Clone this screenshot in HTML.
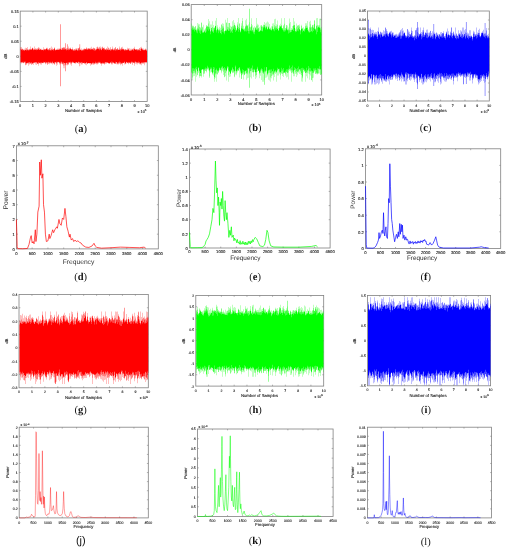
<!DOCTYPE html>
<html lang="en"><head><meta charset="utf-8"><title>Signals and power spectra</title>
<style>
html,body{margin:0;padding:0;background:#fff}
body{width:508px;height:550px;overflow:hidden}
svg{display:block;font-family:"Liberation Sans",sans-serif;text-rendering:geometricPrecision}
.t text{stroke:#222;stroke-width:0.12px}
</style></head><body>
<svg width="508" height="550" viewBox="0 0 508 550">
<defs><filter id="soft" x="0" y="0" width="100%" height="100%" filterUnits="userSpaceOnUse"><feGaussianBlur stdDeviation="0.3"/></filter></defs>
<rect width="508" height="550" fill="#fff"/>
<g filter="url(#soft)">
<g id="plot-a"><rect x="20.2" y="11.1" width="127" height="90.4" fill="none" stroke="#808080" stroke-width="0.8"/>
<path d="M32.9 101.5v-1.4M32.9 11.1v1.4M45.6 101.5v-1.4M45.6 11.1v1.4M58.3 101.5v-1.4M58.3 11.1v1.4M71 101.5v-1.4M71 11.1v1.4M83.7 101.5v-1.4M83.7 11.1v1.4M96.4 101.5v-1.4M96.4 11.1v1.4M109.1 101.5v-1.4M109.1 11.1v1.4M121.8 101.5v-1.4M121.8 11.1v1.4M134.5 101.5v-1.4M134.5 11.1v1.4M20.2 26.17h1.4M147.2 26.17h-1.4M20.2 41.23h1.4M147.2 41.23h-1.4M20.2 56.3h1.4M147.2 56.3h-1.4M20.2 71.37h1.4M147.2 71.37h-1.4M20.2 86.43h1.4M147.2 86.43h-1.4" stroke="#808080" stroke-width="0.6" fill="none"/>
<g class="t"><text x="20.2" y="107.1" font-size="3.9" text-anchor="middle" fill="#222">0</text><text x="32.9" y="107.1" font-size="3.9" text-anchor="middle" fill="#222">1</text><text x="45.6" y="107.1" font-size="3.9" text-anchor="middle" fill="#222">2</text><text x="58.3" y="107.1" font-size="3.9" text-anchor="middle" fill="#222">3</text><text x="71" y="107.1" font-size="3.9" text-anchor="middle" fill="#222">4</text><text x="83.7" y="107.1" font-size="3.9" text-anchor="middle" fill="#222">5</text><text x="96.4" y="107.1" font-size="3.9" text-anchor="middle" fill="#222">6</text><text x="109.1" y="107.1" font-size="3.9" text-anchor="middle" fill="#222">7</text><text x="121.8" y="107.1" font-size="3.9" text-anchor="middle" fill="#222">8</text><text x="134.5" y="107.1" font-size="3.9" text-anchor="middle" fill="#222">9</text><text x="147.2" y="107.1" font-size="3.9" text-anchor="middle" fill="#222">10</text><text x="18.6" y="12.7" font-size="3.9" text-anchor="end" fill="#222">0.15</text><text x="18.6" y="27.77" font-size="3.9" text-anchor="end" fill="#222">0.1</text><text x="18.6" y="42.84" font-size="3.9" text-anchor="end" fill="#222">0.05</text><text x="18.6" y="57.9" font-size="3.9" text-anchor="end" fill="#222">0</text><text x="18.6" y="72.97" font-size="3.9" text-anchor="end" fill="#222">-0.05</text><text x="18.6" y="88.04" font-size="3.9" text-anchor="end" fill="#222">-0.1</text><text x="18.6" y="103.1" font-size="3.9" text-anchor="end" fill="#222">-0.15</text></g>
<path d="M20.5 56.2V47.35H20.75V48.88H21V48.8H21.25V49.79H21.5V46.94H21.75V49.65H22V48.74H22.25V49.14H22.5V50.39H22.75V48.86H23V49.93H23.25V49.46H23.5V49.55H23.75V50.41H24V48.65H24.25V50.67H24.5V50.57H24.75V49.99H25V47.64H25.25V49.81H25.5V49.66H25.75V49.95H26V48.59H26.25V50.45H26.5V50.25H26.75V48.11H27V48.96H27.25V47.01H27.5V49.94H27.75V50.23H28V50.73H28.25V49.46H28.5V49.63H28.75V49.64H29V49.39H29.25V50.34H29.5V49.4H29.75V48.79H30V49.26H30.25V46.6H30.5V49.63H30.75V49.58H31V49.02H31.25V49.9H31.5V49.68H31.75V48.81H32V47.57H32.25V48.03H32.5V48.32H32.75V48.69H33V49.11H33.25V50.25H33.5V48.62H33.75V50.09H34V49.55H34.25V49.94H34.5V48.96H34.75V46.6H35V49.84H35.25V48.67H35.5V48.27H35.75V50.05H36V49.82H36.25V48.63H36.5V48.71H36.75V50.36H37V48.73H37.25V49.78H37.5V48.17H37.75V50.01H38V48.03H38.25V49.35H38.5V47H38.75V49.35H39V49.99H39.25V47.74H39.5V48.77H39.75V49.88H40V49.57H40.25V48.84H40.5V49.62H40.75V49.23H41V50.13H41.25V48.84H41.5V49.97H41.75V49.75H42V49.91H42.25V49.2H42.5V49.91H42.75V49.96H43V49.28H43.25V47.13H43.5V50.74H43.75V49.99H44V48.82H44.25V50.08H44.5V49.01H44.75V49.46H45V50.33H45.25V49.38H45.5V48.92H45.75V48.92H46V47.77H46.25V48.62H46.5V48.92H46.75V48.53H47V47.75H47.25V49.41H47.5V48.72H47.75V49.96H48V50.44H48.25V48.93H48.5V49.69H48.75V49.54H49V47.88H49.25V48.3H49.5V50.36H49.75V49.51H50V50.21H50.25V47.81H50.5V49.77H50.75V50.41H51V50.38H51.25V46.6H51.5V49.55H51.75V49.16H52V50.05H52.25V47.84H52.5V48.89H52.75V50.1H53V49.39H53.25V49.35H53.5V50.67H53.75V49.05H54V47.35H54.25V49.28H54.5V48.56H54.75V48H55V49.73H55.25V50.68H55.5V49.7H55.75V49.89H56V49.16H56.25V49.71H56.5V50.07H56.75V49.71H57V50.12H57.25V49.59H57.5V48.59H57.75V49.65H58V49.47H58.25V48.51H58.5V49.72H58.75V50.09H59V48.25H59.25V49.48H59.5V49.83H59.75V49.05H60V48.61H60.25V48.98H60.5V49.29H60.75V49.59H61V49.31H61.25V47.86H61.5V49.81H61.75V50.04H62V47.58H62.25V48.3H62.5V48.08H62.75V49.77H63V49.99H63.25V46.98H63.5V48.61H63.75V48.18H64V49.06H64.25V50.06H64.5V47.34H64.75V48.11H65V49.04H65.25V49.16H65.5V49.68H65.75V49.02H66V48.04H66.25V48.91H66.5V50.55H66.75V49.75H67V47.92H67.25V49.94H67.5V48.87H67.75V49.98H68V46.6H68.25V50.16H68.5V48.38H68.75V49.33H69V49.75H69.25V49.38H69.5V48.43H69.75V48.29H70V48.93H70.25V47.54H70.5V48.78H70.75V48.33H71V49.46H71.25V49.22H71.5V49.77H71.75V49.11H72V47.43H72.25V49.23H72.5V50.19H72.75V49.08H73V49.53H73.25V50.4H73.5V49.71H73.75V50.67H74V50.69H74.25V49.32H74.5V50.31H74.75V49.12H75V48.62H75.25V49.59H75.5V49.89H75.75V50.7H76V48.5H76.25V49.97H76.5V49.48H76.75V48.38H77V50.8H77.25V49.96H77.5V48.28H77.75V50.42H78V48.09H78.25V48.01H78.5V49.1H78.75V50.49H79V47.14H79.25V50.47H79.5V49.66H79.75V47.72H80V49.68H80.25V49.43H80.5V49.61H80.75V49.95H81V49.89H81.25V50.98H81.5V48.48H81.75V50.14H82V49.31H82.25V50.11H82.5V50.25H82.75V50.83H83V48.71H83.25V49.16H83.5V50.25H83.75V50.27H84V48.87H84.25V50.15H84.5V48.84H84.75V48.8H85V49.64H85.25V49.05H85.5V49H85.75V48.79H86V48.92H86.25V47.94H86.5V47.32H86.75V49.63H87V49.2H87.25V49.38H87.5V49.7H87.75V48.29H88V48.34H88.25V48.49H88.5V48.49H88.75V49.6H89V48.83H89.25V48.68H89.5V49.42H89.75V48.3H90V47.76H90.25V49.57H90.5V49.66H90.75V48.65H91V49.38H91.25V46.79H91.5V48.82H91.75V49.27H92V48.46H92.25V48.75H92.5V49.43H92.75V49.35H93V48.01H93.25V49.45H93.5V47.49H93.75V50.37H94V48.34H94.25V48.6H94.5V48.44H94.75V50.7H95V48.74H95.25V49.45H95.5V50.61H95.75V50.32H96V47.14H96.25V49.19H96.5V49.35H96.75V49.55H97V48.85H97.25V48.84H97.5V46.6H97.75V46.94H98V49.26H98.25V47.55H98.5V48.39H98.75V48.81H99V47.52H99.25V46.87H99.5V50.18H99.75V48.99H100V48.3H100.25V49.52H100.5V46.6H100.75V48.4H101V50.19H101.25V49.96H101.5V49.33H101.75V47.62H102V48.64H102.25V46.76H102.5V48.4H102.75V46.69H103V47.98H103.25V49.48H103.5V47.85H103.75V48.17H104V50.18H104.25V48.8H104.5V48.67H104.75V47.59H105V49.73H105.25V49.56H105.5V49.35H105.75V49.51H106V47.92H106.25V48.77H106.5V49.61H106.75V50.48H107V49.95H107.25V49.53H107.5V49.35H107.75V46.6H108V50.17H108.25V47.55H108.5V48.07H108.75V49.74H109V50.04H109.25V49.96H109.5V49.27H109.75V48.41H110V47.1H110.25V50.15H110.5V50.69H110.75V48.75H111V50.28H111.25V49.3H111.5V49.02H111.75V49.42H112V46.6H112.25V49.31H112.5V48.5H112.75V49.81H113V49.47H113.25V50.22H113.5V50.21H113.75V48.81H114V48.69H114.25V50.33H114.5V49.42H114.75V47.88H115V47.28H115.25V50.63H115.5V49.39H115.75V47.32H116V49.25H116.25V49.26H116.5V49.02H116.75V50.36H117V50.35H117.25V48.05H117.5V48.22H117.75V49.13H118V50.07H118.25V49.6H118.5V49.82H118.75V49.49H119V48.48H119.25V50.03H119.5V46.6H119.75V49.82H120V48.54H120.25V49.34H120.5V50.63H120.75V49.49H121V47.6H121.25V49.25H121.5V49.8H121.75V47.56H122V48.75H122.25V46.64H122.5V49.48H122.75V49.16H123V49.35H123.25V48.89H123.5V49.73H123.75V48.48H124V50.4H124.25V50.62H124.5V49.41H124.75V49.41H125V50.29H125.25V49.04H125.5V50.25H125.75V49.06H126V50.03H126.25V49.22H126.5V49.88H126.75V50.57H127V47.78H127.25V50.37H127.5V49.8H127.75V49.45H128V49.35H128.25V48.03H128.5V49.11H128.75V49.94H129V48.27H129.25V50H129.5V50.8H129.75V50.98H130V50.65H130.25V50.3H130.5V48.72H130.75V50.85H131V48.76H131.25V50.43H131.5V50.44H131.75V49.84H132V49.65H132.25V48.82H132.5V49.74H132.75V49.19H133V48.49H133.25V48.46H133.5V50.37H133.75V50.76H134V48.63H134.25V46.74H134.5V49.2H134.75V48.65H135V48.93H135.25V49.97H135.5V49.59H135.75V49.64H136V48.99H136.25V50.13H136.5V49.2H136.75V49.51H137V49.62H137.25V50.61H137.5V49.07H137.75V50.16H138V49.26H138.25V50.58H138.5V49.43H138.75V49.75H139V50.54H139.25V50.09H139.5V48.19H139.75V48.37H140V50.91H140.25V47.2H140.5V49.06H140.75V50.74H141V46.75H141.25V48.6H141.5V48.87H141.75V48.19H142V49.62H142.25V49.81H142.5V49.14H142.75V48.21H143V50.28H143.25V50.3H143.5V49.78H143.75V48.43H144V49.66H144.25V49.94H144.5V49.41H144.75V50.43H145V49.37H145.25V49.69H145.5V48.4H145.75V49.83H146V50.19H146.25V50.08H146.5V49.03H146.75V50.98H147V56.2V62.77H146.75V62H146.5V62.82H146.25V61.98H146V62.08H145.75V61.92H145.5V62.41H145.25V63.28H145V61.9H144.75V65.33H144.5V63.16H144.25V62.14H144V62.04H143.75V63.52H143.5V62.65H143.25V63.38H143V62.98H142.75V62.75H142.5V62.14H142.25V64.11H142V65.29H141.75V62.06H141.5V63.1H141.25V63.22H141V63H140.75V63.69H140.5V63.72H140.25V64.7H140V63.57H139.75V64.33H139.5V62.59H139.25V62.24H139V62.73H138.75V61.54H138.5V63.6H138.25V62.78H138V62.3H137.75V62.38H137.5V62.93H137.25V64.43H137V62.32H136.75V62.04H136.5V62.93H136.25V64.28H136V61.42H135.75V62.37H135.5V61.85H135.25V63.73H135V65.8H134.75V63.48H134.5V63.08H134.25V61.85H134V62.34H133.75V63.01H133.5V63.08H133.25V62.49H133V61.69H132.75V62.06H132.5V63.23H132.25V65.07H132V62.43H131.75V61.42H131.5V62.24H131.25V63.35H131V63.24H130.75V63.67H130.5V64.12H130.25V62.15H130V62.42H129.75V62.4H129.5V62.8H129.25V63.27H129V64.34H128.75V62.1H128.5V62.85H128.25V63.21H128V62.8H127.75V62.94H127.5V63.13H127.25V62.32H127V62.06H126.75V62.23H126.5V61.63H126.25V63.5H126V63.68H125.75V64.18H125.5V63.54H125.25V62.9H125V64.62H124.75V62.35H124.5V61.51H124.25V62.56H124V63.04H123.75V62.92H123.5V63.02H123.25V62.47H123V63.6H122.75V62.56H122.5V65.8H122.25V63.08H122V62.67H121.75V64.33H121.5V63.89H121.25V63.34H121V61.93H120.75V65.17H120.5V64.04H120.25V62.88H120V64.1H119.75V62.55H119.5V61.61H119.25V63.03H119V62.09H118.75V63.26H118.5V63.42H118.25V64.43H118V64.42H117.75V63.96H117.5V63.28H117.25V62.84H117V62.38H116.75V62.04H116.5V64.3H116.25V62.12H116V63.93H115.75V63.57H115.5V61.8H115.25V63.58H115V63.55H114.75V63.86H114.5V63.1H114.25V63.5H114V63.27H113.75V62.45H113.5V62.97H113.25V62.14H113V62.49H112.75V64.58H112.5V61.87H112.25V63.17H112V64.46H111.75V62.9H111.5V63.66H111.25V61.58H111V62.6H110.75V62.61H110.5V62.25H110.25V63.26H110V63.35H109.75V63.04H109.5V64.1H109.25V63.44H109V63.45H108.75V63.09H108.5V62.76H108.25V63.6H108V62.37H107.75V62.68H107.5V62.64H107.25V62.65H107V62.34H106.75V63.87H106.5V62.7H106.25V62.34H106V62.06H105.75V62.48H105.5V62.57H105.25V64H105V63.37H104.75V64.82H104.5V64.1H104.25V62.62H104V63.39H103.75V64.04H103.5V63.28H103.25V62.84H103V62.91H102.75V63.95H102.5V62.62H102.25V63.44H102V62.9H101.75V65.8H101.5V63.57H101.25V63.86H101V62.33H100.75V63.02H100.5V63.61H100.25V64.04H100V62.96H99.75V62.72H99.5V61.87H99.25V62.38H99V62.96H98.75V61.7H98.5V62.54H98.25V63.77H98V64.42H97.75V62.68H97.5V62.46H97.25V63.69H97V63.42H96.75V63.1H96.5V64.39H96.25V62.57H96V63.5H95.75V61.86H95.5V62.73H95.25V63.7H95V63.59H94.75V64.39H94.5V63.16H94.25V63.55H94V64.5H93.75V62.44H93.5V64.6H93.25V63.07H93V64.61H92.75V63.54H92.5V62.41H92.25V62.97H92V64.95H91.75V63.63H91.5V64.14H91.25V63.31H91V65.8H90.75V63.14H90.5V63.33H90.25V63.05H90V63.56H89.75V62.9H89.5V63.56H89.25V62.91H89V63.05H88.75V63.02H88.5V63.27H88.25V63.37H88V63.81H87.75V63.62H87.5V62.97H87.25V63.96H87V62.73H86.75V65.13H86.5V62.45H86.25V62.36H86V63.09H85.75V63.2H85.5V64.8H85.25V63.61H85V62.8H84.75V63.42H84.5V62.83H84.25V63.99H84V63.32H83.75V62.97H83.5V62.98H83.25V62.75H83V64.58H82.75V62.7H82.5V63.32H82.25V62.54H82V62.26H81.75V62.25H81.5V64.67H81.25V63.72H81V62.57H80.75V62.91H80.5V63.49H80.25V62.43H80V63.38H79.75V62.17H79.5V62.62H79.25V62.37H79V62.6H78.75V61.71H78.5V64.07H78.25V61.77H78V62.59H77.75V63.03H77.5V62.73H77.25V63.16H77V61.92H76.75V62.62H76.5V63.25H76.25V62.04H76V62.01H75.75V63.24H75.5V62.8H75.25V63.73H75V63.32H74.75V63.14H74.5V62.63H74.25V62.98H74V62.79H73.75V62.55H73.5V62.08H73.25V62.9H73V62.3H72.75V61.42H72.5V62.52H72.25V62.67H72V62.82H71.75V63.76H71.5V62.26H71.25V65.63H71V61.63H70.75V62.41H70.5V64.58H70.25V63.29H70V62.47H69.75V61.92H69.5V62.59H69.25V62.89H69V63.17H68.75V63.97H68.5V62.01H68.25V64.95H68V62.94H67.75V64.31H67.5V62.22H67.25V63.9H67V65.18H66.75V62.93H66.5V62.82H66.25V62.73H66V63.23H65.75V65.18H65.5V63.29H65.25V64.81H65V65.38H64.75V62.88H64.5V62.96H64.25V63.06H64V62.47H63.75V65.8H63.5V64.28H63.25V62.39H63V64.61H62.75V63.77H62.5V63.76H62.25V62.48H62V61.56H61.75V63.81H61.5V62.09H61.25V63.16H61V63.07H60.75V61.65H60.5V63.39H60.25V64.36H60V62.66H59.75V64.47H59.5V63.35H59.25V62.24H59V62.19H58.75V62.48H58.5V61.68H58.25V61.95H58V62.51H57.75V64.77H57.5V62.37H57.25V61.75H57V63.13H56.75V65.8H56.5V63.48H56.25V61.78H56V61.93H55.75V61.97H55.5V63.35H55.25V62.38H55V64.38H54.75V63.6H54.5V64.41H54.25V61.96H54V63.35H53.75V62.81H53.5V63.56H53.25V63.17H53V62.02H52.75V62.88H52.5V64.43H52.25V61.48H52V62.95H51.75V62.94H51.5V63.91H51.25V62.19H51V61.83H50.75V62.54H50.5V63.07H50.25V63.5H50V62.84H49.75V64.13H49.5V62.91H49.25V62.02H49V64.09H48.75V63.35H48.5V62.06H48.25V61.76H48V64.67H47.75V62.29H47.5V64.44H47.25V62.86H47V62.67H46.75V62.14H46.5V63.51H46.25V62.31H46V64.22H45.75V63.5H45.5V61.74H45.25V62.88H45V62.21H44.75V62.89H44.5V62.37H44.25V61.9H44V62.61H43.75V63.04H43.5V63.22H43.25V61.75H43V62.67H42.75V62.79H42.5V63.18H42.25V63.12H42V64.84H41.75V62.76H41.5V62.2H41.25V63.14H41V64.59H40.75V63.58H40.5V62.78H40.25V62.51H40V63.04H39.75V62.94H39.5V62.44H39.25V63.48H39V64.03H38.75V65.8H38.5V62.07H38.25V62.82H38V62.87H37.75V63.45H37.5V63.65H37.25V63.93H37V62.64H36.75V64.94H36.5V62.16H36.25V62.36H36V62.12H35.75V62.83H35.5V62.23H35.25V64.6H35V62.61H34.75V63.31H34.5V61.89H34.25V63.03H34V65.03H33.75V62.44H33.5V62.64H33.25V63.07H33V63.73H32.75V63.13H32.5V64.28H32.25V63.33H32V62.68H31.75V64.53H31.5V64.82H31.25V62.32H31V63.75H30.75V62.66H30.5V63.69H30.25V62.85H30V62.4H29.75V64.5H29.5V62.01H29.25V63.46H29V65.8H28.75V62.97H28.5V63.58H28.25V62.05H28V62.44H27.75V62.96H27.5V63.59H27.25V63.29H27V63.9H26.75V62.91H26.5V65.02H26.25V63.02H26V64.67H25.75V62.73H25.5V61.42H25.25V65.14H25V61.67H24.75V61.68H24.5V62.92H24.25V62.32H24V63.11H23.75V61.7H23.5V63.27H23.25V62.79H23V62.69H22.75V61.8H22.5V62.63H22.25V62.18H22V62.37H21.75V63.55H21.5V61.97H21.25V62.78H21V62.77H20.75V62.14H20.5Z" fill="#ff0000"/>
<path d="M60.51 24.2h0.4V86.2h-0.4ZM65.08 43.2h0.4V71.2h-0.4ZM66.99 44.2h0.4V65.2h-0.4ZM79.69 44.2h0.4V66.2h-0.4ZM63.81 47.2h0.4V68.2h-0.4Z" fill="#ff0000"/>
<g class="t">
<text x="83.5" y="112.3" font-size="4.2" text-anchor="middle" fill="#2a2a2a">Number of Samples</text>
<text x="7.2" y="56.2" font-size="4.2" text-anchor="middle" fill="#2a2a2a" transform="rotate(-90 7.2 56.2)">dB</text>
<text x="137.5" y="112.8" font-size="3.9" fill="#222">x 10<tspan dy="-1.5" font-size="2.92">5</tspan></text>
</g></g>
<g id="plot-b"><rect x="191.2" y="4.6" width="130.5" height="90.4" fill="none" stroke="#808080" stroke-width="0.8"/>
<path d="M204.25 95v-1.4M204.25 4.6v1.4M217.3 95v-1.4M217.3 4.6v1.4M230.35 95v-1.4M230.35 4.6v1.4M243.4 95v-1.4M243.4 4.6v1.4M256.45 95v-1.4M256.45 4.6v1.4M269.5 95v-1.4M269.5 4.6v1.4M282.55 95v-1.4M282.55 4.6v1.4M295.6 95v-1.4M295.6 4.6v1.4M308.65 95v-1.4M308.65 4.6v1.4M191.2 19.67h1.4M321.7 19.67h-1.4M191.2 34.73h1.4M321.7 34.73h-1.4M191.2 49.8h1.4M321.7 49.8h-1.4M191.2 64.87h1.4M321.7 64.87h-1.4M191.2 79.93h1.4M321.7 79.93h-1.4" stroke="#808080" stroke-width="0.6" fill="none"/>
<g class="t"><text x="191.2" y="100.6" font-size="3.9" text-anchor="middle" fill="#222">0</text><text x="204.25" y="100.6" font-size="3.9" text-anchor="middle" fill="#222">1</text><text x="217.3" y="100.6" font-size="3.9" text-anchor="middle" fill="#222">2</text><text x="230.35" y="100.6" font-size="3.9" text-anchor="middle" fill="#222">3</text><text x="243.4" y="100.6" font-size="3.9" text-anchor="middle" fill="#222">4</text><text x="256.45" y="100.6" font-size="3.9" text-anchor="middle" fill="#222">5</text><text x="269.5" y="100.6" font-size="3.9" text-anchor="middle" fill="#222">6</text><text x="282.55" y="100.6" font-size="3.9" text-anchor="middle" fill="#222">7</text><text x="295.6" y="100.6" font-size="3.9" text-anchor="middle" fill="#222">8</text><text x="308.65" y="100.6" font-size="3.9" text-anchor="middle" fill="#222">9</text><text x="321.7" y="100.6" font-size="3.9" text-anchor="middle" fill="#222">10</text><text x="189.6" y="6.2" font-size="3.9" text-anchor="end" fill="#222">0.06</text><text x="189.6" y="21.27" font-size="3.9" text-anchor="end" fill="#222">0.04</text><text x="189.6" y="36.34" font-size="3.9" text-anchor="end" fill="#222">0.02</text><text x="189.6" y="51.4" font-size="3.9" text-anchor="end" fill="#222">0</text><text x="189.6" y="66.47" font-size="3.9" text-anchor="end" fill="#222">-0.02</text><text x="189.6" y="81.54" font-size="3.9" text-anchor="end" fill="#222">-0.04</text><text x="189.6" y="96.6" font-size="3.9" text-anchor="end" fill="#222">-0.06</text></g>
<path d="M191.5 49.8V23.52H191.75V28.65H192V27.76H192.25V26.34H192.5V25.56H192.75V29.81H193V26.46H193.25V28.77H193.5V25.75H193.75V29.95H194V26.94H194.25V27.76H194.5V31.59H194.75V29.3H195V29.56H195.25V26.14H195.5V30.04H195.75V26.35H196V32.53H196.25V30.57H196.5V28.85H196.75V30.18H197V27.76H197.25V29.45H197.5V23.11H197.75V33.34H198V30.47H198.25V23.66H198.5V25.47H198.75V28.74H199V30.47H199.25V24.26H199.5V32.66H199.75V26.94H200V34.12H200.25V30.42H200.5V28.35H200.75V27.15H201V22.82H201.25V22.51H201.5V29.61H201.75V30.83H202V32.22H202.25V27.62H202.5V32.68H202.75V26.75H203V32.73H203.25V32.45H203.5V24.78H203.75V31.88H204V30.66H204.25V30.64H204.5V31.88H204.75V29.44H205V29.23H205.25V28.08H205.5V32.44H205.75V32.72H206V25.27H206.25V31.43H206.5V26.89H206.75V25.43H207V25.68H207.25V29.47H207.5V26.68H207.75V26.25H208V23.5H208.25V27.07H208.5V30.78H208.75V18.88H209V28.51H209.25V29.47H209.5V21.28H209.75V26.66H210V31.84H210.25V34.14H210.5V31.11H210.75V24.42H211V30.22H211.25V27.99H211.5V24.44H211.75V27.93H212V31.73H212.25V31.27H212.5V26.97H212.75V21.14H213V31.38H213.25V33.07H213.5V28.01H213.75V25.07H214V28.33H214.25V29.64H214.5V28.1H214.75V26.94H215V25.7H215.25V26.36H215.5V20.85H215.75V25.88H216V32.52H216.25V17.96H216.5V29.91H216.75V30.45H217V27.32H217.25V28.84H217.5V25.21H217.75V29.55H218V29.94H218.25V30.44H218.5V28.51H218.75V33.21H219V31.55H219.25V29.31H219.5V30.18H219.75V26.73H220V33.27H220.25V30.43H220.5V32.93H220.75V27.73H221V34.14H221.25V24.57H221.5V29.94H221.75V24.56H222V26.31H222.25V31.65H222.5V23.16H222.75V28.63H223V26.48H223.25V32.55H223.5V23.76H223.75V28.34H224V32.59H224.25V30.91H224.5V31.04H224.75V34.14H225V19.66H225.25V30.38H225.5V30.79H225.75V30.82H226V30.51H226.25V22.36H226.5V22.96H226.75V31.21H227V29.92H227.25V26.69H227.5V17.96H227.75V29.02H228V22.9H228.25V30.46H228.5V27.25H228.75V31.12H229V23.09H229.25V28.4H229.5V23.11H229.75V30.83H230V28.93H230.25V25.76H230.5V32.69H230.75V29.74H231V26.62H231.25V31.07H231.5V27.06H231.75V32.32H232V26.32H232.25V33.01H232.5V21.13H232.75V29.88H233V25.84H233.25V27.43H233.5V28.97H233.75V19.95H234V24.86H234.25V22.79H234.5V29.84H234.75V25.04H235V27.85H235.25V26.29H235.5V25.41H235.75V32.03H236V28.49H236.25V29.79H236.5V30.11H236.75V31.06H237V25.85H237.25V22.18H237.5V27.92H237.75V24.43H238V18H238.25V31.68H238.5V28.89H238.75V27.1H239V23.33H239.25V29.79H239.5V28.09H239.75V23.78H240V32.52H240.25V31.74H240.5V31.48H240.75V30.21H241V27.87H241.25V25.69H241.5V28.73H241.75V23.25H242V28.39H242.25V21.06H242.5V17.96H242.75V29.04H243V25.77H243.25V28.7H243.5V29.61H243.75V30.2H244V28.43H244.25V30.4H244.5V28.83H244.75V31.57H245V31.29H245.25V20.34H245.5V25.95H245.75V27.37H246V25.75H246.25V24.41H246.5V31.51H246.75V18.8H247V25.09H247.25V30.8H247.5V25.72H247.75V26.3H248V33.62H248.25V30.99H248.5V28.44H248.75V24.46H249V26.75H249.25V33.78H249.5V31.09H249.75V22.34H250V30.5H250.25V27.53H250.5V30.4H250.75V26.68H251V23.88H251.25V18.31H251.5V26.6H251.75V31.35H252V31.47H252.25V29.74H252.5V30.27H252.75V25.17H253V27.17H253.25V31.7H253.5V33.44H253.75V27.94H254V30.47H254.25V31.93H254.5V34.14H254.75V26.18H255V29.53H255.25V27.24H255.5V27.81H255.75V27.69H256V25.79H256.25V17.96H256.5V29.9H256.75V29.44H257V30.61H257.25V23.8H257.5V25.39H257.75V28.79H258V31.9H258.25V27.92H258.5V24.73H258.75V28.61H259V32.03H259.25V30.95H259.5V31.38H259.75V27.19H260V25.5H260.25V30.93H260.5V30.06H260.75V30.48H261V26.76H261.25V25.61H261.5V24.99H261.75V30.91H262V31.52H262.25V26.54H262.5V30.82H262.75V26.58H263V27.12H263.25V28.23H263.5V24.62H263.75V25.19H264V25.22H264.25V24.92H264.5V27.35H264.75V22.07H265V29.51H265.25V23.61H265.5V26.51H265.75V28.05H266V22.47H266.25V26.05H266.5V27.37H266.75V27.17H267V29.83H267.25V28.69H267.5V21.43H267.75V28.94H268V26.64H268.25V27.65H268.5V22.46H268.75V26.53H269V28.44H269.25V29.16H269.5V29.16H269.75V24H270V29.54H270.25V27.48H270.5V28.15H270.75V29.68H271V26.13H271.25V30.62H271.5V30.22H271.75V29.54H272V26.05H272.25V27.36H272.5V23.43H272.75V29.1H273V30.57H273.25V23.36H273.5V29.28H273.75V28.96H274V19.13H274.25V31.33H274.5V27.55H274.75V25.33H275V18.69H275.25V29.57H275.5V25.93H275.75V27.5H276V24.18H276.25V28H276.5V26.25H276.75V29.69H277V28.71H277.25V29.03H277.5V24.71H277.75V20.53H278V30.08H278.25V30.91H278.5V28.01H278.75V30.45H279V28.22H279.25V27.54H279.5V25.96H279.75V25.11H280V26.35H280.25V23.69H280.5V26.11H280.75V27.1H281V18.18H281.25V26.14H281.5V25.01H281.75V28.21H282V29.69H282.25V28.17H282.5V28.62H282.75V28.08H283V24.95H283.25V26.26H283.5V30.25H283.75V31.38H284V23.79H284.25V17.96H284.5V31.81H284.75V30.27H285V28.08H285.25V30.02H285.5V28.32H285.75V31.13H286V25.22H286.25V27.52H286.5V29.34H286.75V25.01H287V29.62H287.25V25.48H287.5V29.75H287.75V30.62H288V27.6H288.25V33.4H288.5V29.19H288.75V30.2H289V18.45H289.25V23.45H289.5V30.29H289.75V32.77H290V30.02H290.25V32.6H290.5V21.95H290.75V32.12H291V31.98H291.25V29.76H291.5V28.01H291.75V30.19H292V25.94H292.25V29.86H292.5V29.93H292.75V28.82H293V26.03H293.25V17.96H293.5V24.97H293.75V30.98H294V24.92H294.25V21.54H294.5V25.19H294.75V27.98H295V28.67H295.25V31.09H295.5V30.88H295.75V32.22H296V30.69H296.25V27.33H296.5V23.55H296.75V32.11H297V25.27H297.25V29.27H297.5V25.9H297.75V30.65H298V25.07H298.25V27.86H298.5V25.44H298.75V31.28H299V29.23H299.25V29.42H299.5V26.56H299.75V24.6H300V31.21H300.25V30.23H300.5V30.01H300.75V34.14H301V28.57H301.25V24.69H301.5V29.1H301.75V26.03H302V28.16H302.25V27.81H302.5V28.97H302.75V32.13H303V30.61H303.25V27.35H303.5V30.58H303.75V31.12H304V30.54H304.25V28.93H304.5V31.82H304.75V28.5H305V23.13H305.25V25.98H305.5V29.59H305.75V27.73H306V28.11H306.25V27.76H306.5V25.44H306.75V23.15H307V21.09H307.25V29.88H307.5V26.62H307.75V27.91H308V32.25H308.25V29.23H308.5V30.92H308.75V30.53H309V32.6H309.25V21.69H309.5V27.21H309.75V32.28H310V27.54H310.25V31.88H310.5V24.29H310.75V20.8H311V30.9H311.25V26.65H311.5V27.42H311.75V31.51H312V24.7H312.25V32.17H312.5V26.62H312.75V25.03H313V24.87H313.25V27.85H313.5V27.56H313.75V31.07H314V20.5H314.25V20.21H314.5V23.97H314.75V28.91H315V30.4H315.25V28.13H315.5V29.15H315.75V29.33H316V18.22H316.25V25.57H316.5V34.14H316.75V26.37H317V31.99H317.25V27.8H317.5V25.34H317.75V17.96H318V24.89H318.25V26.31H318.5V27.37H318.75V27.24H319V28.08H319.25V27.19H319.5V18.78H319.75V25.26H320V32.2H320.25V18.47H320.5V29.62H320.75V27.87H321V29.87H321.25V26.72H321.5V49.8V74.48H321.25V74.21H321V68.88H320.75V69.83H320.5V74.93H320.25V74.66H320V69.22H319.75V69.58H319.5V66.14H319.25V73.57H319V68.71H318.75V73.27H318.5V73.82H318.25V68.49H318V74.1H317.75V74.5H317.5V68.2H317.25V72.92H317V73.24H316.75V69.66H316.5V72.48H316.25V74.37H316V68.26H315.75V73.76H315.5V73.89H315.25V70.09H315V72.18H314.75V70.6H314.5V70.73H314.25V68.5H314V72.96H313.75V68.61H313.5V77.73H313.25V72.53H313V70.91H312.75V77.97H312.5V81.64H312.25V72.77H312V80.34H311.75V79.91H311.5V71.36H311.25V70.25H311V71.37H310.75V75.57H310.5V71.78H310.25V68.14H310V74.34H309.75V79.85H309.5V67.71H309.25V71.21H309V68.76H308.75V65.98H308.5V73.51H308.25V70.38H308V72.7H307.75V78.36H307.5V70.77H307.25V70.01H307V76.18H306.75V72.04H306.5V67.82H306.25V73.02H306V73.11H305.75V70.51H305.5V81.64H305.25V73.09H305V70.69H304.75V71.52H304.5V69.25H304.25V71.8H304V69.84H303.75V70.07H303.5V72.55H303.25V68.16H303V76.6H302.75V78.34H302.5V81.64H302.25V67.67H302V75.01H301.75V81.42H301.5V73.1H301.25V67.96H301V70.43H300.75V74.33H300.5V71.59H300.25V68.68H300V69.39H299.75V69.27H299.5V73.94H299.25V69.53H299V72.63H298.75V66.41H298.5V71.71H298.25V70.84H298V68.04H297.75V71.91H297.5V71.38H297.25V75.37H297V69.03H296.75V76.9H296.5V73.58H296.25V71.12H296V72.14H295.75V74.11H295.5V69.29H295.25V68.06H295V76.19H294.75V67.18H294.5V70.3H294.25V69.96H294V76.37H293.75V72.75H293.5V70.78H293.25V74.01H293V71.97H292.75V65.57H292.5V73.15H292.25V70.22H292V66.89H291.75V70.23H291.5V73.08H291.25V81.64H291V71.4H290.75V67.89H290.5V70.21H290.25V69.22H290V65.48H289.75V69.61H289.5V70.93H289.25V69.05H289V72.44H288.75V79.4H288.5V69.89H288.25V68.62H288V72.89H287.75V69.27H287.5V72.67H287.25V76.78H287V69.33H286.75V71.65H286.5V72.05H286.25V77.53H286V72.51H285.75V75.84H285.5V74.31H285.25V70.78H285V72.94H284.75V72.45H284.5V72.74H284.25V72.15H284V73.28H283.75V72.78H283.5V68.01H283.25V77.04H283V69.27H282.75V74.12H282.5V76.03H282.25V70.65H282V71.36H281.75V67.8H281.5V73.61H281.25V73.61H281V75.18H280.75V72.1H280.5V79.41H280.25V72.51H280V72.43H279.75V68.72H279.5V71.49H279.25V73.84H279V69.15H278.75V75.4H278.5V68.86H278.25V69.3H278V70.64H277.75V69.87H277.5V75.51H277.25V67.84H277V72.86H276.75V71.43H276.5V72.19H276.25V81.64H276V74.03H275.75V72.27H275.5V70.66H275.25V70.25H275V71.44H274.75V76.92H274.5V73.07H274.25V71.47H274V73.76H273.75V74.71H273.5V80.41H273.25V68.73H273V75.56H272.75V74.14H272.5V71.26H272.25V71.17H272V76.03H271.75V69.31H271.5V78.37H271.25V72.41H271V77.58H270.75V72.97H270.5V81.64H270.25V69.43H270V69.61H269.75V80.53H269.5V70.29H269.25V72.75H269V71.14H268.75V79.78H268.5V73.15H268.25V69.99H268V74.58H267.75V74.49H267.5V76.39H267.25V73.29H267V66.89H266.75V77.6H266.5V67.28H266.25V70.86H266V71.2H265.75V72.35H265.5V70.45H265.25V77.73H265V70.78H264.75V67.33H264.5V80.12H264.25V71.79H264V72.99H263.75V74H263.5V71.73H263.25V81.64H263V81.64H262.75V69.28H262.5V72.63H262.25V71.31H262V70.58H261.75V68.13H261.5V79.9H261.25V69.36H261V75.86H260.75V71.41H260.5V69.61H260.25V72.91H260V78.27H259.75V74.29H259.5V72.95H259.25V72.18H259V70.94H258.75V71H258.5V70.73H258.25V70.26H258V68.13H257.75V68.88H257.5V66.84H257.25V71.76H257V74.88H256.75V69.18H256.5V72.01H256.25V77.45H256V78.94H255.75V72.21H255.5V75.67H255.25V72.18H255V69.82H254.75V71.89H254.5V70.21H254.25V68.76H254V76.68H253.75V69.23H253.5V72.52H253.25V71.94H253V69.69H252.75V65.46H252.5V72.41H252.25V72.04H252V78.56H251.75V70.69H251.5V68.44H251.25V67.77H251V70.93H250.75V71.3H250.5V77.2H250.25V68.43H250V72.8H249.75V67.2H249.5V73.76H249.25V69.04H249V67.71H248.75V77.74H248.5V68.19H248.25V69H248V74.22H247.75V72.39H247.5V78.2H247.25V67.81H247V73.17H246.75V73.41H246.5V79.68H246.25V70.31H246V70.78H245.75V73.63H245.5V71.46H245.25V70.72H245V74.35H244.75V75.26H244.5V71.16H244.25V75.05H244V79.54H243.75V71.73H243.5V70.03H243.25V73.45H243V73.94H242.75V69.14H242.5V74.71H242.25V72.79H242V78.67H241.75V72.93H241.5V75.2H241.25V79.11H241V71.18H240.75V73.87H240.5V69.81H240.25V72.5H240V77.38H239.75V68.81H239.5V66.96H239.25V67.74H239V67.97H238.75V70.32H238.5V70.95H238.25V70.62H238V70.93H237.75V69.76H237.5V69.2H237.25V72.47H237V71.62H236.75V70.95H236.5V75.21H236.25V73.54H236V65.46H235.75V66.81H235.5V70.75H235.25V74.59H235V77.18H234.75V71.39H234.5V76.62H234.25V70.83H234V72.43H233.75V72.6H233.5V69.07H233.25V70.5H233V72.59H232.75V68.49H232.5V73.15H232.25V67.13H232V70.21H231.75V69.8H231.5V71.91H231.25V71.05H231V76.57H230.75V74.01H230.5V73.36H230.25V73.42H230V71.81H229.75V72.01H229.5V71.03H229.25V76.99H229V66.67H228.75V70.2H228.5V75.23H228.25V81.64H228V68.63H227.75V66.04H227.5V66.9H227.25V67.98H227V71.05H226.75V71.53H226.5V69.93H226.25V80.53H226V76.14H225.75V68.21H225.5V69.65H225.25V73.12H225V76.78H224.75V77.2H224.5V70.3H224.25V66.94H224V71.76H223.75V68.59H223.5V67.89H223.25V75.07H223V69.31H222.75V65.88H222.5V67.24H222.25V70.81H222V66.86H221.75V71.55H221.5V73.35H221.25V67.89H221V69.91H220.75V68.6H220.5V70.4H220.25V69.88H220V69.57H219.75V68.09H219.5V70.57H219.25V67.54H219V71.33H218.75V72.54H218.5V72.7H218.25V70.27H218V70.16H217.75V74.58H217.5V74.22H217.25V70.91H217V68.43H216.75V81.64H216.5V69.8H216.25V73.87H216V74.54H215.75V73.17H215.5V69.89H215.25V77.64H215V67.47H214.75V81.64H214.5V78.66H214.25V77.07H214V66.93H213.75V69.03H213.5V75.62H213.25V72.23H213V74.75H212.75V73.84H212.5V72.97H212.25V72.27H212V68.8H211.75V72.19H211.5V67.62H211.25V71.73H211V72.56H210.75V67.43H210.5V69.46H210.25V68.95H210V77.97H209.75V70.04H209.5V71.16H209.25V76.61H209V68.07H208.75V69.34H208.5V70.51H208.25V67.27H208V69.44H207.75V65.84H207.5V69.21H207.25V67.58H207V71.18H206.75V69.29H206.5V67.88H206.25V72.61H206V70.78H205.75V68.92H205.5V67.62H205.25V71.01H205V72.83H204.75V70.25H204.5V73.91H204.25V68.64H204V73.74H203.75V76.77H203.5V68.91H203.25V70.44H203V69.64H202.75V69.14H202.5V69.12H202.25V69.54H202V69.71H201.75V76.07H201.5V77.53H201.25V69.69H201V73.01H200.75V73.01H200.5V75.94H200.25V76.32H200V77.66H199.75V71.17H199.5V75.91H199.25V70.53H199V72.89H198.75V67.97H198.5V67.1H198.25V68.36H198V70.91H197.75V71.58H197.5V75.37H197.25V74.66H197V69.57H196.75V66.87H196.5V69.16H196.25V76.84H196V72.58H195.75V67.83H195.5V81.64H195.25V74.2H195V72.84H194.75V75.9H194.5V70.87H194.25V68.74H194V70.89H193.75V76.3H193.5V73.18H193.25V68.24H193V79.54H192.75V77.47H192.5V73.44H192.25V68.17H192V71.81H191.75V73.11H191.5Z" fill="#00ff00"/>
<path d="M249.07 8.8h0.4V87.8h-0.4ZM264.08 29.8h0.4V84.8h-0.4Z" fill="#00ff00"/>
<g class="t">
<text x="256.3" y="105.4" font-size="4.2" text-anchor="middle" fill="#2a2a2a">Number of Samples</text>
<text x="176.5" y="49.9" font-size="3.9" text-anchor="middle" fill="#2a2a2a" transform="rotate(-90 176.5 49.9)">dB</text>
<text x="311.5" y="106.3" font-size="3.9" fill="#222">x 10<tspan dy="-1.5" font-size="2.92">5</tspan></text>
</g></g>
<g id="plot-c"><rect x="367.5" y="11" width="121.8" height="90" fill="none" stroke="#808080" stroke-width="0.8"/>
<path d="M379.68 101v-1.4M379.68 11v1.4M391.86 101v-1.4M391.86 11v1.4M404.04 101v-1.4M404.04 11v1.4M416.22 101v-1.4M416.22 11v1.4M428.4 101v-1.4M428.4 11v1.4M440.58 101v-1.4M440.58 11v1.4M452.76 101v-1.4M452.76 11v1.4M464.94 101v-1.4M464.94 11v1.4M477.12 101v-1.4M477.12 11v1.4M367.5 20h1.4M489.3 20h-1.4M367.5 29h1.4M489.3 29h-1.4M367.5 38h1.4M489.3 38h-1.4M367.5 47h1.4M489.3 47h-1.4M367.5 56h1.4M489.3 56h-1.4M367.5 65h1.4M489.3 65h-1.4M367.5 74h1.4M489.3 74h-1.4M367.5 83h1.4M489.3 83h-1.4M367.5 92h1.4M489.3 92h-1.4" stroke="#808080" stroke-width="0.6" fill="none"/>
<g class="t"><text x="367.5" y="106.6" font-size="3.5" text-anchor="middle" fill="#222">0</text><text x="379.68" y="106.6" font-size="3.5" text-anchor="middle" fill="#222">1</text><text x="391.86" y="106.6" font-size="3.5" text-anchor="middle" fill="#222">2</text><text x="404.04" y="106.6" font-size="3.5" text-anchor="middle" fill="#222">3</text><text x="416.22" y="106.6" font-size="3.5" text-anchor="middle" fill="#222">4</text><text x="428.4" y="106.6" font-size="3.5" text-anchor="middle" fill="#222">5</text><text x="440.58" y="106.6" font-size="3.5" text-anchor="middle" fill="#222">6</text><text x="452.76" y="106.6" font-size="3.5" text-anchor="middle" fill="#222">7</text><text x="464.94" y="106.6" font-size="3.5" text-anchor="middle" fill="#222">8</text><text x="477.12" y="106.6" font-size="3.5" text-anchor="middle" fill="#222">9</text><text x="489.3" y="106.6" font-size="3.5" text-anchor="middle" fill="#222">10</text><text x="365.9" y="12.46" font-size="3.5" text-anchor="end" fill="#222">0.05</text><text x="365.9" y="21.46" font-size="3.5" text-anchor="end" fill="#222">0.04</text><text x="365.9" y="30.46" font-size="3.5" text-anchor="end" fill="#222">0.03</text><text x="365.9" y="39.46" font-size="3.5" text-anchor="end" fill="#222">0.02</text><text x="365.9" y="48.46" font-size="3.5" text-anchor="end" fill="#222">0.01</text><text x="365.9" y="57.46" font-size="3.5" text-anchor="end" fill="#222">0</text><text x="365.9" y="66.46" font-size="3.5" text-anchor="end" fill="#222">-0.01</text><text x="365.9" y="75.46" font-size="3.5" text-anchor="end" fill="#222">-0.02</text><text x="365.9" y="84.46" font-size="3.5" text-anchor="end" fill="#222">-0.03</text><text x="365.9" y="93.46" font-size="3.5" text-anchor="end" fill="#222">-0.04</text><text x="365.9" y="102.46" font-size="3.5" text-anchor="end" fill="#222">-0.05</text></g>
<path d="M368 56V33.38H368.25V34.7H368.5V33.72H368.75V33.79H369V34.85H369.25V35.9H369.5V28.46H369.75V39.41H370V34.18H370.25V37.51H370.5V27.4H370.75V28.91H371V30.09H371.25V37.36H371.5V33.97H371.75V36.67H372V35.7H372.25V29.69H372.5V33.17H372.75V33.09H373V34.07H373.25V36.31H373.5V29.94H373.75V37.56H374V34.34H374.25V33.46H374.5V35.42H374.75V32.4H375V35.6H375.25V33.76H375.5V34.27H375.75V31.73H376V32.02H376.25V36.74H376.5V34.79H376.75V33.66H377V35.95H377.25V37.12H377.5V31.11H377.75V39.12H378V27.4H378.25V34.73H378.5V31.78H378.75V31.76H379V33.76H379.25V34.69H379.5V33.78H379.75V35.5H380V37.6H380.25V31.41H380.5V32H380.75V34.51H381V33.32H381.25V32.35H381.5V33.72H381.75V34.99H382V36.45H382.25V37.04H382.5V35.71H382.75V32.48H383V36.07H383.25V34.61H383.5V30.36H383.75V36.55H384V31.34H384.25V34.36H384.5V34.44H384.75V35.99H385V34.19H385.25V37.17H385.5V27.75H385.75V27.4H386V30.65H386.25V34.14H386.5V33.23H386.75V29.07H387V31.24H387.25V34.39H387.5V33.16H387.75V35.65H388V33.84H388.25V36.73H388.5V36.13H388.75V34.36H389V33.24H389.25V31.77H389.5V32.55H389.75V33.29H390V33.44H390.25V31.65H390.5V34.69H390.75V31.16H391V37.38H391.25V35.41H391.5V30.75H391.75V34H392V33.54H392.25V32.37H392.5V35.45H392.75V32.77H393V32.39H393.25V36.88H393.5V35.29H393.75V36.72H394V35.43H394.25V35.9H394.5V34.44H394.75V35.42H395V35.8H395.25V34.91H395.5V37.98H395.75V33.9H396V33.65H396.25V34.66H396.5V37.42H396.75V37.99H397V36.25H397.25V34.61H397.5V36.51H397.75V37.56H398V33.47H398.25V36.52H398.5V36.71H398.75V34.75H399V32.12H399.25V36.31H399.5V33.01H399.75V34.51H400V35.48H400.25V38.69H400.5V31.56H400.75V30H401V35.43H401.25V38.48H401.5V29.36H401.75V36.3H402V27.88H402.25V35.23H402.5V31.19H402.75V36.22H403V34.21H403.25V36.36H403.5V33.31H403.75V30.42H404V32.55H404.25V33.59H404.5V32.6H404.75V33.07H405V35.94H405.25V35.04H405.5V37.55H405.75V35.54H406V35.84H406.25V36.68H406.5V37.93H406.75V36.22H407V29.07H407.25V35.58H407.5V29.18H407.75V36.69H408V30.4H408.25V36.03H408.5V32.58H408.75V38.15H409V31.64H409.25V36.89H409.5V37.27H409.75V34.1H410V36.61H410.25V34.79H410.5V34.25H410.75V34.18H411V27.44H411.25V36.77H411.5V30.61H411.75V32.91H412V31.06H412.25V37.81H412.5V36.2H412.75V35.8H413V36.5H413.25V37.93H413.5V37.03H413.75V36.35H414V34.88H414.25V36.51H414.5V40.14H414.75V36.36H415V35.66H415.25V38.32H415.5V30.08H415.75V30.4H416V37.25H416.25V38.9H416.5V29.81H416.75V27.9H417V27.4H417.25V35.94H417.5V31.9H417.75V35.56H418V36.47H418.25V27.4H418.5V37.62H418.75V33.23H419V35.65H419.25V34.2H419.5V34.07H419.75V34.59H420V27.4H420.25V34.48H420.5V33.09H420.75V33.88H421V31.93H421.25V33.92H421.5V36.33H421.75V39.16H422V32.55H422.25V37.52H422.5V35.58H422.75V30.3H423V27.4H423.25V37.01H423.5V32.21H423.75V30.16H424V35.23H424.25V35.35H424.5V36.92H424.75V34.26H425V32.97H425.25V33.07H425.5V31.99H425.75V35.2H426V37.77H426.25V29.72H426.5V33.56H426.75V33.27H427V29.55H427.25V34.82H427.5V38.28H427.75V32.82H428V35.84H428.25V37.03H428.5V32.84H428.75V37.49H429V36.17H429.25V35.44H429.5V32.13H429.75V33.21H430V31.02H430.25V37.81H430.5V37.3H430.75V30.78H431V35.5H431.25V33.09H431.5V37.2H431.75V35.89H432V38.68H432.25V36.68H432.5V31.25H432.75V34.81H433V36.18H433.25V38.53H433.5V34.57H433.75V32.87H434V33.95H434.25V33.68H434.5V32.54H434.75V34.47H435V33.61H435.25V35.84H435.5V38.35H435.75V39.17H436V32.5H436.25V36.43H436.5V37.03H436.75V32.76H437V36.21H437.25V33.59H437.5V35.11H437.75V34.63H438V38.02H438.25V34.14H438.5V36.22H438.75V36.38H439V34.48H439.25V39.1H439.5V34.49H439.75V34.36H440V36.52H440.25V35.42H440.5V36.8H440.75V32.25H441V31.95H441.25V36.36H441.5V34.32H441.75V37.59H442V32.89H442.25V33.11H442.5V37.67H442.75V34.32H443V31.26H443.25V33.01H443.5V37.27H443.75V33.83H444V36.08H444.25V37.77H444.5V36.32H444.75V37.39H445V39.52H445.25V33.97H445.5V37.9H445.75V35.71H446V33.01H446.25V31.66H446.5V33.91H446.75V31.71H447V36.56H447.25V35.01H447.5V28.56H447.75V37.42H448V35.33H448.25V34.11H448.5V31.2H448.75V34.74H449V37.98H449.25V35.35H449.5V34.63H449.75V35.47H450V35.37H450.25V35.71H450.5V32.39H450.75V31.57H451V27.4H451.25V37.34H451.5V27.4H451.75V33.26H452V36H452.25V35.62H452.5V38.14H452.75V33.03H453V31.38H453.25V32.16H453.5V35.26H453.75V33.63H454V34.9H454.25V36.33H454.5V33.74H454.75V36.15H455V27.4H455.25V35.53H455.5V38.09H455.75V38.28H456V35.53H456.25V39.15H456.5V33.18H456.75V34.1H457V35.48H457.25V36.08H457.5V38.29H457.75V35.82H458V30.26H458.25V37.58H458.5V34.1H458.75V38.85H459V33.63H459.25V34.7H459.5V32.88H459.75V34.76H460V36.72H460.25V34.34H460.5V30.17H460.75V36.82H461V37.79H461.25V32.16H461.5V35.73H461.75V30.84H462V27.41H462.25V34.55H462.5V34.03H462.75V38.24H463V27.4H463.25V36.87H463.5V37.28H463.75V35.22H464V35.84H464.25V34.02H464.5V34.1H464.75V30.21H465V38.79H465.25V28.89H465.5V32.44H465.75V37.39H466V36.01H466.25V36.56H466.5V34.92H466.75V33.12H467V38.11H467.25V32.49H467.5V34.53H467.75V37.59H468V34.57H468.25V39.31H468.5V33.18H468.75V36.2H469V36.33H469.25V36.03H469.5V37.85H469.75V30.33H470V36.55H470.25V38.11H470.5V30.28H470.75V36.29H471V35.63H471.25V35.57H471.5V36.41H471.75V36.83H472V37.42H472.25V38.88H472.5V36.92H472.75V40.52H473V36.71H473.25V34H473.5V32.47H473.75V30.76H474V33.86H474.25V31.69H474.5V36.75H474.75V36.82H475V36.36H475.25V34.75H475.5V35.62H475.75V34.03H476V38.43H476.25V27.4H476.5V34.13H476.75V35.92H477V32.49H477.25V37.56H477.5V34.99H477.75V34.28H478V29.89H478.25V33.22H478.5V35.34H478.75V33.1H479V28.75H479.25V35.19H479.5V33.05H479.75V36.63H480V35.7H480.25V36.06H480.5V37.39H480.75V36.77H481V33.56H481.25V35.24H481.5V32.92H481.75V32.51H482V32.6H482.25V31.33H482.5V33.3H482.75V33.12H483V36.55H483.25V33.59H483.5V29.71H483.75V35.14H484V33.46H484.25V37.23H484.5V33.87H484.75V36.53H485V33.11H485.25V36.04H485.5V38.32H485.75V34.52H486V36.2H486.25V35.48H486.5V30.57H486.75V27.91H487V38.26H487.25V34.77H487.5V37.16H487.75V35.45H488V38.14H488.25V33.83H488.5V36.26H488.75V36.61H489V38.05H489.25V56V73.3H489V71.56H488.75V77.26H488.5V76.03H488.25V74.34H488V78.71H487.75V79.43H487.5V76.73H487.25V76.84H487V74.91H486.75V77.34H486.5V72.89H486.25V76.8H486V78.64H485.75V79.08H485.5V76.08H485.25V81.64H485V77.76H484.75V75.13H484.5V75.81H484.25V82.74H484V77.85H483.75V80.88H483.5V74.1H483.25V75.54H483V75.15H482.75V76.16H482.5V77.31H482.25V75.83H482V78.74H481.75V80.88H481.5V77.84H481.25V74.76H481V74.95H480.75V77.63H480.5V79.79H480.25V81.93H480V78.68H479.75V80.44H479.5V83.14H479.25V79.62H479V78.97H478.75V79.22H478.5V84.6H478.25V82.34H478V78.52H477.75V75.72H477.5V75.24H477.25V80.49H477V77.99H476.75V74.6H476.5V74.91H476.25V75.94H476V75.29H475.75V77.17H475.5V78.16H475.25V73.83H475V74.55H474.75V74.18H474.5V75.44H474.25V74.17H474V76.58H473.75V74.49H473.5V78.33H473.25V78.48H473V83.55H472.75V74.04H472.5V79.69H472.25V77.4H472V73.63H471.75V74.3H471.5V74.48H471.25V75.33H471V80.49H470.75V75.06H470.5V77.79H470.25V71.82H470V72.68H469.75V80.51H469.5V73.4H469.25V74.04H469V73.73H468.75V76.92H468.5V72.74H468.25V74.77H468V77.35H467.75V73.42H467.5V72.24H467.25V75.88H467V76.91H466.75V75.3H466.5V75.64H466.25V76.65H466V73.65H465.75V73.37H465.5V75.17H465.25V77.99H465V74.54H464.75V76.69H464.5V73.51H464.25V77.37H464V75.38H463.75V84.6H463.5V84.06H463.25V73.64H463V74.47H462.75V73.5H462.5V76.14H462.25V74.18H462V74.51H461.75V75.56H461.5V74.52H461.25V76.33H461V74.85H460.75V76.74H460.5V76.55H460.25V72.66H460V75.26H459.75V73.08H459.5V74.44H459.25V75.66H459V73.42H458.75V76.55H458.5V74.01H458.25V72.16H458V76.18H457.75V73.54H457.5V81.16H457.25V77.24H457V73.37H456.75V74.47H456.5V76.9H456.25V77.78H456V75.56H455.75V76.14H455.5V77.81H455.25V75.74H455V76.67H454.75V74.82H454.5V77.66H454.25V75.61H454V80.97H453.75V84.6H453.5V78.31H453.25V73.46H453V77.29H452.75V73.54H452.5V75.65H452.25V76.83H452V73.8H451.75V78.13H451.5V78.15H451.25V79.91H451V75.82H450.75V74.87H450.5V79.29H450.25V75.86H450V77.82H449.75V76.9H449.5V78.78H449.25V74.35H449V74.72H448.75V76.19H448.5V78.88H448.25V79.38H448V74.59H447.75V78.48H447.5V75.88H447.25V78.98H447V79.88H446.75V73.07H446.5V81.54H446.25V75.55H446V76.29H445.75V81.79H445.5V76.28H445.25V78.19H445V73.22H444.75V81.13H444.5V77.43H444.25V77.64H444V79.71H443.75V78.06H443.5V77.15H443.25V75.41H443V74.13H442.75V77.25H442.5V76.02H442.25V76.51H442V75.92H441.75V73.01H441.5V83.57H441.25V77.03H441V81.67H440.75V84.6H440.5V78.9H440.25V73.42H440V78.36H439.75V74.57H439.5V77.17H439.25V72.68H439V73.93H438.75V82.82H438.5V75.29H438.25V78.14H438V81.22H437.75V73.69H437.5V76.16H437.25V75.75H437V78.72H436.75V75.37H436.5V75.33H436.25V79.01H436V77.78H435.75V76.18H435.5V81.32H435.25V82.24H435V73.08H434.75V78.97H434.5V82.19H434.25V74.36H434V76.78H433.75V74.19H433.5V77.84H433.25V78.13H433V79.06H432.75V77.81H432.5V78.18H432.25V80.05H432V78.24H431.75V77.9H431.5V73.1H431.25V75.51H431V74.14H430.75V81.4H430.5V77.55H430.25V76.5H430V77.93H429.75V76.36H429.5V79.75H429.25V76.93H429V76.88H428.75V74.33H428.5V79.03H428.25V78.65H428V74.46H427.75V78.23H427.5V80.35H427.25V76.78H427V82.26H426.75V79.26H426.5V79.05H426.25V77.64H426V77.26H425.75V81.39H425.5V74.28H425.25V76.45H425V79.52H424.75V75.82H424.5V75.37H424.25V82.55H424V76.82H423.75V81.33H423.5V84.32H423.25V82.19H423V84.6H422.75V78.32H422.5V78.99H422.25V76.99H422V82.86H421.75V73.72H421.5V73.9H421.25V78.8H421V77.73H420.75V77.44H420.5V79.87H420.25V78.91H420V76.44H419.75V77.88H419.5V82.06H419.25V80.29H419V76.2H418.75V76.6H418.5V76.34H418.25V75.4H418V76.22H417.75V83.32H417.5V84.57H417.25V74.76H417V78.19H416.75V74.42H416.5V82.38H416.25V77.38H416V72.56H415.75V74.59H415.5V74.44H415.25V78.85H415V82.07H414.75V74.21H414.5V79.41H414.25V77.67H414V79.49H413.75V77.47H413.5V77.58H413.25V73.79H413V73.92H412.75V73.94H412.5V75.2H412.25V77.66H412V75.53H411.75V79.59H411.5V73.68H411.25V77.11H411V76.42H410.75V80.74H410.5V73.84H410.25V76.6H410V79.68H409.75V79.65H409.5V77.39H409.25V73.95H409V73.87H408.75V78.1H408.5V74.55H408.25V73.55H408V73.1H407.75V81.37H407.5V78.95H407.25V77.69H407V80.2H406.75V84.6H406.5V74.83H406.25V72.27H406V73.77H405.75V72.43H405.5V84.6H405.25V74.58H405V81.49H404.75V81H404.5V77.61H404.25V77.19H404V78.55H403.75V76.31H403.5V77.06H403.25V81.4H403V76.37H402.75V79.23H402.5V74.64H402.25V74.6H402V74.16H401.75V77.93H401.5V81.5H401.25V72.4H401V75.58H400.75V79.23H400.5V75.85H400.25V77.01H400V75.07H399.75V80.32H399.5V78.01H399.25V80.48H399V74.49H398.75V77.31H398.5V74.32H398.25V77.14H398V74.67H397.75V76.33H397.5V80.96H397.25V78.37H397V73.42H396.75V78.84H396.5V73.67H396.25V76.69H396V77.75H395.75V73.68H395.5V79.5H395.25V76.06H395V74.95H394.75V73.98H394.5V75.05H394.25V76.46H394V77.54H393.75V74.96H393.5V74.04H393.25V75.48H393V76.75H392.75V76.49H392.5V79.84H392.25V79.29H392V76.96H391.75V79.94H391.5V74.75H391.25V76.86H391V79.82H390.75V76.05H390.5V77.85H390.25V79.81H390V76.46H389.75V84.6H389.5V76.61H389.25V78.64H389V74.97H388.75V81.13H388.5V78.41H388.25V79.36H388V76.04H387.75V80.17H387.5V75.44H387.25V77.1H387V79.14H386.75V79.01H386.5V82.08H386.25V80.49H386V80.84H385.75V74.12H385.5V81.85H385.25V77.39H385V79.8H384.75V80.95H384.5V80.28H384.25V78.65H384V78.6H383.75V80.46H383.5V78.73H383.25V75.92H383V77.78H382.75V78.4H382.5V75.91H382.25V83.69H382V79.89H381.75V80.73H381.5V81.9H381.25V75.54H381V79.04H380.75V78.31H380.5V77.79H380.25V74.06H380V80.25H379.75V77.86H379.5V74.74H379.25V83.61H379V75.63H378.75V78.54H378.5V84.6H378.25V78.4H378V78.8H377.75V82.97H377.5V78.11H377.25V79.84H377V77.83H376.75V83.72H376.5V75.15H376.25V74.69H376V77.63H375.75V76.14H375.5V84.6H375.25V75.62H375V81.95H374.75V75.11H374.5V76.81H374.25V84.6H374V78.18H373.75V74.32H373.5V75.08H373.25V75.29H373V79.3H372.75V80.32H372.5V82.59H372.25V84.32H372V74.31H371.75V84.6H371.5V74.24H371.25V78.62H371V78.34H370.75V78.95H370.5V77.83H370.25V79.61H370V76H369.75V76.07H369.5V76.95H369.25V80.47H369V76.46H368.75V77.05H368.5V77.98H368.25V84.31H368Z" fill="#0000ff"/>
<path d="M368.03 20h0.4V83h-0.4ZM417.24 22h0.4V89h-0.4ZM433.68 24h0.4V86h-0.4ZM465.96 22h0.4V84h-0.4ZM484.84 23h0.4V96h-0.4Z" fill="#0000ff"/>
<g class="t">
<text x="428" y="112.3" font-size="4.2" text-anchor="middle" fill="#2a2a2a">Number of Samples</text>
<text x="355.1" y="56.2" font-size="4.0" text-anchor="middle" fill="#2a2a2a" transform="rotate(-90 355.1 56.2)">dB</text>
<text x="480.8" y="112.8" font-size="3.5" fill="#222">x 10<tspan dy="-1.5" font-size="2.62">5</tspan></text>
</g></g>
<g id="plot-d"><rect x="16.4" y="145.8" width="141.9" height="103.1" fill="none" stroke="#808080" stroke-width="0.8"/>
<path d="M32.17 248.9v-1.4M32.17 145.8v1.4M47.93 248.9v-1.4M47.93 145.8v1.4M63.7 248.9v-1.4M63.7 145.8v1.4M79.47 248.9v-1.4M79.47 145.8v1.4M95.23 248.9v-1.4M95.23 145.8v1.4M111 248.9v-1.4M111 145.8v1.4M126.77 248.9v-1.4M126.77 145.8v1.4M142.53 248.9v-1.4M142.53 145.8v1.4M16.4 160.53h1.4M158.3 160.53h-1.4M16.4 175.26h1.4M158.3 175.26h-1.4M16.4 189.99h1.4M158.3 189.99h-1.4M16.4 204.71h1.4M158.3 204.71h-1.4M16.4 219.44h1.4M158.3 219.44h-1.4M16.4 234.17h1.4M158.3 234.17h-1.4" stroke="#808080" stroke-width="0.6" fill="none"/>
<g class="t"><text x="16.4" y="255.1" font-size="4.2" text-anchor="middle" fill="#222">0</text><text x="32.17" y="255.1" font-size="4.2" text-anchor="middle" fill="#222">500</text><text x="47.93" y="255.1" font-size="4.2" text-anchor="middle" fill="#222">1000</text><text x="63.7" y="255.1" font-size="4.2" text-anchor="middle" fill="#222">1500</text><text x="79.47" y="255.1" font-size="4.2" text-anchor="middle" fill="#222">2000</text><text x="95.23" y="255.1" font-size="4.2" text-anchor="middle" fill="#222">2500</text><text x="111" y="255.1" font-size="4.2" text-anchor="middle" fill="#222">3000</text><text x="126.77" y="255.1" font-size="4.2" text-anchor="middle" fill="#222">3500</text><text x="142.53" y="255.1" font-size="4.2" text-anchor="middle" fill="#222">4000</text><text x="158.3" y="255.1" font-size="4.2" text-anchor="middle" fill="#222">4500</text><text x="14.8" y="147.51" font-size="4.2" text-anchor="end" fill="#222">7</text><text x="14.8" y="162.24" font-size="4.2" text-anchor="end" fill="#222">6</text><text x="14.8" y="176.97" font-size="4.2" text-anchor="end" fill="#222">5</text><text x="14.8" y="191.7" font-size="4.2" text-anchor="end" fill="#222">4</text><text x="14.8" y="206.43" font-size="4.2" text-anchor="end" fill="#222">3</text><text x="14.8" y="221.15" font-size="4.2" text-anchor="end" fill="#222">2</text><text x="14.8" y="235.88" font-size="4.2" text-anchor="end" fill="#222">1</text><text x="14.8" y="250.61" font-size="4.2" text-anchor="end" fill="#222">0</text></g>
<path d="M16.4 219.44L16.78 231.23L17.19 246.69L17.66 248.61L22.71 248.75L27.44 248.46L29.01 244.48L30.59 237.12L31.22 235.64L32.17 243.01L33.11 241.54L34.06 243.75L35.32 229.75L35.95 241.54L36.9 234.17L37.84 212.08L39.1 206.19L39.73 162L40.37 175.26L41.31 159.79L41.94 178.2L42.89 173.78L43.52 204.71L44.46 212.08L45.41 234.17L46.36 241.54L47.93 240.8L49.19 234.17L49.83 238.59L51.09 235.64L52.66 229.75L53.61 232.7L54.87 229.75L56.76 226.81L57.39 228.28L58.97 219.44L59.92 223.86L61.18 225.33L62.44 217.97L63.7 219.44L64.96 208.4L65.91 216.5L66.85 226.81L68.11 231.23L69.38 237.12L70.01 234.17L71.27 240.06L72.53 238.59L73.79 241.54L75.05 240.06L76.31 241.54L77.89 240.8L79.47 242.27L81.04 243.01L82.62 245.22L85.77 247.13L88.93 247.43L92.08 245.95L93.97 243.3L95.23 245.95L96.81 247.43L101.54 248.16L111 247.72L120.46 247.13L129.92 247.43L139.38 247.72L144.11 247.13L145.69 248.16" stroke="#ff0000" stroke-width="0.68" fill="none" stroke-linejoin="round"/>
<g class="t">
<text x="78.5" y="264" font-size="6.7" text-anchor="middle" fill="#303030" style="stroke:none">Frequency</text>
<text x="7.6" y="200" font-size="6.7" text-anchor="middle" fill="#303030" transform="rotate(-90 7.6 200)" style="stroke:none">Power</text>
<text x="17.8" y="145" font-size="4.2" fill="#222">x 10<tspan dy="-1.5" font-size="3.15">-7</tspan></text>
</g></g>
<g id="plot-e"><rect x="189.5" y="149" width="140.6" height="99" fill="none" stroke="#808080" stroke-width="0.8"/>
<path d="M205.12 248v-1.4M205.12 149v1.4M220.74 248v-1.4M220.74 149v1.4M236.37 248v-1.4M236.37 149v1.4M251.99 248v-1.4M251.99 149v1.4M267.61 248v-1.4M267.61 149v1.4M283.23 248v-1.4M283.23 149v1.4M298.86 248v-1.4M298.86 149v1.4M314.48 248v-1.4M314.48 149v1.4M189.5 163.14h1.4M330.1 163.14h-1.4M189.5 177.29h1.4M330.1 177.29h-1.4M189.5 191.43h1.4M330.1 191.43h-1.4M189.5 205.57h1.4M330.1 205.57h-1.4M189.5 219.71h1.4M330.1 219.71h-1.4M189.5 233.86h1.4M330.1 233.86h-1.4" stroke="#808080" stroke-width="0.6" fill="none"/>
<g class="t"><text x="189.5" y="253.1" font-size="4.2" text-anchor="middle" fill="#222">0</text><text x="205.12" y="253.1" font-size="4.2" text-anchor="middle" fill="#222">500</text><text x="220.74" y="253.1" font-size="4.2" text-anchor="middle" fill="#222">1000</text><text x="236.37" y="253.1" font-size="4.2" text-anchor="middle" fill="#222">1500</text><text x="251.99" y="253.1" font-size="4.2" text-anchor="middle" fill="#222">2000</text><text x="267.61" y="253.1" font-size="4.2" text-anchor="middle" fill="#222">2500</text><text x="283.23" y="253.1" font-size="4.2" text-anchor="middle" fill="#222">3000</text><text x="298.86" y="253.1" font-size="4.2" text-anchor="middle" fill="#222">3500</text><text x="314.48" y="253.1" font-size="4.2" text-anchor="middle" fill="#222">4000</text><text x="330.1" y="253.1" font-size="4.2" text-anchor="middle" fill="#222">4500</text><text x="187.9" y="150.71" font-size="4.2" text-anchor="end" fill="#222">1.4</text><text x="187.9" y="164.85" font-size="4.2" text-anchor="end" fill="#222">1.2</text><text x="187.9" y="179" font-size="4.2" text-anchor="end" fill="#222">1</text><text x="187.9" y="193.14" font-size="4.2" text-anchor="end" fill="#222">0.8</text><text x="187.9" y="207.28" font-size="4.2" text-anchor="end" fill="#222">0.6</text><text x="187.9" y="221.43" font-size="4.2" text-anchor="end" fill="#222">0.4</text><text x="187.9" y="235.57" font-size="4.2" text-anchor="end" fill="#222">0.2</text><text x="187.9" y="249.71" font-size="4.2" text-anchor="end" fill="#222">0</text></g>
<path d="M189.5 232.44L189.87 239.51L190.28 246.59L190.75 247.79L202 247.65L203.56 246.59L205.12 244.46L206.06 240.93L207 239.51L208.25 237.39L209.5 233.86L210.75 226.79L212 219.71L212.93 208.4L213.87 212.64L214.5 194.96L215.43 161.02L216.06 180.82L216.68 192.84L217.31 187.89L217.93 205.57L218.56 197.09L219.18 212.64L219.49 225.37L220.12 202.04L220.74 205.57L221.37 198.5L221.99 209.11L222.62 191.43L223.24 205.57L223.87 216.18L224.49 221.13L225.12 200.62L225.74 212.64L226.37 219.71L226.99 212.64L227.93 223.25L228.87 237.39L229.81 230.32L230.43 235.27L231.37 226.79L231.99 237.39L233.24 235.05L233.93 240.85L234.62 238.05L235.3 239.83L235.99 239.67L236.68 242.75L237.37 239.4L238.05 243.01L238.74 242.31L239.43 244.2L240.12 240.7L240.8 244.44L241.49 242.7L242.18 244.17L242.87 241.17L243.55 244.12L244.24 242.48L244.93 244.97L245.62 242.02L246.3 244.7L246.99 242.68L247.68 244.66L248.36 241.24L249.05 243.52L249.74 241.34L250.43 243.98L251.11 240.87L251.8 242.74L252.49 239.61L253.18 241.79L253.55 240.22L255.11 237.39L256.68 238.81L258.24 242.34L259.8 245.88L262.92 246.59L264.49 245.17L265.74 239.51L266.99 230.32L267.92 232.44L269.17 240.93L270.74 245.88L273.86 246.94L283.23 247.15L298.86 247.15L311.35 246.44L316.04 245.45L317.6 246.94" stroke="#00ff00" stroke-width="0.68" fill="none" stroke-linejoin="round"/>
<g class="t">
<text x="245.3" y="260.4" font-size="6.4" text-anchor="middle" fill="#303030" style="stroke:none">Frequency</text>
<text x="180.6" y="198" font-size="6.4" text-anchor="middle" fill="#303030" transform="rotate(-90 180.6 198)" style="stroke:none">Power</text>
<text x="191" y="148.5" font-size="4.2" fill="#222">x 10<tspan dy="-1.5" font-size="3.15">-6</tspan></text>
</g></g>
<g id="plot-f"><rect x="365.5" y="148.8" width="135.2" height="99.6" fill="none" stroke="#808080" stroke-width="0.8"/>
<path d="M380.52 248.4v-1.4M380.52 148.8v1.4M395.54 248.4v-1.4M395.54 148.8v1.4M410.57 248.4v-1.4M410.57 148.8v1.4M425.59 248.4v-1.4M425.59 148.8v1.4M440.61 248.4v-1.4M440.61 148.8v1.4M455.63 248.4v-1.4M455.63 148.8v1.4M470.66 248.4v-1.4M470.66 148.8v1.4M485.68 248.4v-1.4M485.68 148.8v1.4M365.5 165.4h1.4M500.7 165.4h-1.4M365.5 182h1.4M500.7 182h-1.4M365.5 198.6h1.4M500.7 198.6h-1.4M365.5 215.2h1.4M500.7 215.2h-1.4M365.5 231.8h1.4M500.7 231.8h-1.4" stroke="#808080" stroke-width="0.6" fill="none"/>
<g class="t"><text x="365.5" y="254" font-size="4.2" text-anchor="middle" fill="#222">0</text><text x="380.52" y="254" font-size="4.2" text-anchor="middle" fill="#222">500</text><text x="395.54" y="254" font-size="4.2" text-anchor="middle" fill="#222">1000</text><text x="410.57" y="254" font-size="4.2" text-anchor="middle" fill="#222">1500</text><text x="425.59" y="254" font-size="4.2" text-anchor="middle" fill="#222">2000</text><text x="440.61" y="254" font-size="4.2" text-anchor="middle" fill="#222">2500</text><text x="455.63" y="254" font-size="4.2" text-anchor="middle" fill="#222">3000</text><text x="470.66" y="254" font-size="4.2" text-anchor="middle" fill="#222">3500</text><text x="485.68" y="254" font-size="4.2" text-anchor="middle" fill="#222">4000</text><text x="500.7" y="254" font-size="4.2" text-anchor="middle" fill="#222">4500</text><text x="363.9" y="150.51" font-size="4.2" text-anchor="end" fill="#222">1.2</text><text x="363.9" y="167.11" font-size="4.2" text-anchor="end" fill="#222">1</text><text x="363.9" y="183.71" font-size="4.2" text-anchor="end" fill="#222">0.8</text><text x="363.9" y="200.31" font-size="4.2" text-anchor="end" fill="#222">0.6</text><text x="363.9" y="216.91" font-size="4.2" text-anchor="end" fill="#222">0.4</text><text x="363.9" y="233.51" font-size="4.2" text-anchor="end" fill="#222">0.2</text><text x="363.9" y="250.11" font-size="4.2" text-anchor="end" fill="#222">0</text></g>
<path d="M365.5 186.15L365.86 215.2L366.25 244.25L366.7 247.99L373.01 248.15L374.51 247.57L376.02 245.91L377.52 242.59L378.42 240.1L379.02 232.63L379.62 238.44L380.52 235.95L381.42 231.8L382.32 230.14L382.93 233.46L383.53 212.71L384.13 231.8L384.73 235.95L385.33 230.14L385.93 226.82L386.53 236.78L387.43 238.44L388.03 223.5L388.63 198.6L389.24 202.75L389.84 163.74L390.44 186.15L391.04 202.75L391.64 219.35L392.24 223.5L392.84 230.14L393.74 235.95L394.64 241.76L395.54 237.61L396.45 234.29L397.35 238.44L398.25 231.8L398.85 236.78L399.75 223.5L400.35 234.29L401.25 224.33L401.85 231.8L402.45 225.16L403.06 238.44L403.96 235.12L404.86 240.1L405.76 236.78L406.66 240.1L407.56 239.27L408.76 243.65L409.42 243.68L410.09 240.93L410.75 243.54L411.41 242.19L412.07 242.77L412.73 241.46L413.39 244.17L414.05 242.19L414.71 243.05L415.37 241.49L416.03 243.62L416.7 242.29L417.36 243.25L418.02 240.93L418.68 242.69L419.34 241.66L420 243.12L420.66 240.7L421.32 241.96L421.98 240.83L422.64 242.49L423.31 239.97L423.97 240.93L424.63 239.5L425.29 241.36L425.95 240.93L426.61 244.18L427.09 244.25L428.59 245.08L430.1 242.59L431.6 245.08L433.1 243.42L434.6 240.1L435.8 236.78L436.71 240.93L437.61 245.08L439.11 247.16L443.62 247.99L455.63 247.99L470.66 247.99L479.67 247.16L481.17 246.74L484.18 247.57L488.68 247.99" stroke="#0000ff" stroke-width="0.68" fill="none" stroke-linejoin="round"/>
<g class="t">
<text x="422" y="260.4" font-size="6.4" text-anchor="middle" fill="#303030" style="stroke:none">Frequency</text>
<text x="355.2" y="199.6" font-size="6.4" text-anchor="middle" fill="#303030" transform="rotate(-90 355.2 199.6)" style="stroke:none">Power</text>
<text x="367" y="147.6" font-size="4.2" fill="#222">x 10<tspan dy="-1.5" font-size="3.15">-4</tspan></text>
</g></g>
<g id="plot-g"><rect x="19" y="294.4" width="129.3" height="93.4" fill="none" stroke="#808080" stroke-width="0.8"/>
<path d="M31.93 387.8v-1.4M31.93 294.4v1.4M44.86 387.8v-1.4M44.86 294.4v1.4M57.79 387.8v-1.4M57.79 294.4v1.4M70.72 387.8v-1.4M70.72 294.4v1.4M83.65 387.8v-1.4M83.65 294.4v1.4M96.58 387.8v-1.4M96.58 294.4v1.4M109.51 387.8v-1.4M109.51 294.4v1.4M122.44 387.8v-1.4M122.44 294.4v1.4M135.37 387.8v-1.4M135.37 294.4v1.4M19 307.74h1.4M148.3 307.74h-1.4M19 321.09h1.4M148.3 321.09h-1.4M19 334.43h1.4M148.3 334.43h-1.4M19 347.77h1.4M148.3 347.77h-1.4M19 361.11h1.4M148.3 361.11h-1.4M19 374.46h1.4M148.3 374.46h-1.4" stroke="#808080" stroke-width="0.6" fill="none"/>
<g class="t"><text x="19" y="393.4" font-size="3.5" text-anchor="middle" fill="#222">0</text><text x="31.93" y="393.4" font-size="3.5" text-anchor="middle" fill="#222">1</text><text x="44.86" y="393.4" font-size="3.5" text-anchor="middle" fill="#222">2</text><text x="57.79" y="393.4" font-size="3.5" text-anchor="middle" fill="#222">3</text><text x="70.72" y="393.4" font-size="3.5" text-anchor="middle" fill="#222">4</text><text x="83.65" y="393.4" font-size="3.5" text-anchor="middle" fill="#222">5</text><text x="96.58" y="393.4" font-size="3.5" text-anchor="middle" fill="#222">6</text><text x="109.51" y="393.4" font-size="3.5" text-anchor="middle" fill="#222">7</text><text x="122.44" y="393.4" font-size="3.5" text-anchor="middle" fill="#222">8</text><text x="135.37" y="393.4" font-size="3.5" text-anchor="middle" fill="#222">9</text><text x="148.3" y="393.4" font-size="3.5" text-anchor="middle" fill="#222">10</text><text x="17.4" y="295.86" font-size="3.5" text-anchor="end" fill="#222">0.4</text><text x="17.4" y="309.2" font-size="3.5" text-anchor="end" fill="#222">0.3</text><text x="17.4" y="322.55" font-size="3.5" text-anchor="end" fill="#222">0.2</text><text x="17.4" y="335.89" font-size="3.5" text-anchor="end" fill="#222">0.1</text><text x="17.4" y="349.23" font-size="3.5" text-anchor="end" fill="#222">0</text><text x="17.4" y="362.57" font-size="3.5" text-anchor="end" fill="#222">-0.1</text><text x="17.4" y="375.92" font-size="3.5" text-anchor="end" fill="#222">-0.2</text><text x="17.4" y="389.26" font-size="3.5" text-anchor="end" fill="#222">-0.3</text></g>
<path d="M19.5 347.7V324.53H19.75V320.62H20V323.03H20.25V321.28H20.5V322.5H20.75V314.95H21V315.44H21.25V319.56H21.5V323.42H21.75V323.75H22V321.96H22.25V321.26H22.5V313.8H22.75V323.88H23V321.62H23.25V321.44H23.5V323.1H23.75V318.13H24V321.22H24.25V321.76H24.5V322.25H24.75V315.59H25V322.16H25.25V323.65H25.5V321.42H25.75V317.16H26V323.83H26.25V315.77H26.5V318.1H26.75V323.17H27V321.17H27.25V319.01H27.5V322.5H27.75V321.46H28V316.04H28.25V317.86H28.5V322.74H28.75V322.76H29V314.82H29.25V320.72H29.5V322.01H29.75V318.94H30V314.41H30.25V319.79H30.5V323.92H30.75V322.12H31V317.74H31.25V322.87H31.5V321.49H31.75V318.44H32V318.24H32.25V317.02H32.5V319.64H32.75V319.23H33V318.35H33.25V322.83H33.5V321.91H33.75V320.11H34V324.1H34.25V321.22H34.5V323.9H34.75V322.44H35V321.09H35.25V321.41H35.5V322.09H35.75V321.95H36V322.92H36.25V318.72H36.5V318.85H36.75V317.66H37V323.34H37.25V323.29H37.5V319.75H37.75V319.49H38V316.15H38.25V324.59H38.5V321.48H38.75V324.29H39V321.33H39.25V320.46H39.5V322.26H39.75V323.46H40V322.98H40.25V319.19H40.5V320.48H40.75V323.95H41V320.49H41.25V322.75H41.5V320.75H41.75V322.96H42V314.64H42.25V311.38H42.5V315.41H42.75V320.02H43V319.5H43.25V324.57H43.5V326.11H43.75V316.75H44V323.32H44.25V321.01H44.5V323.32H44.75V319.83H45V322.88H45.25V311.38H45.5V320.73H45.75V319.69H46V318.84H46.25V319.62H46.5V320.78H46.75V321.34H47V321.49H47.25V323.08H47.5V323.88H47.75V325.35H48V322.63H48.25V319.23H48.5V321.89H48.75V320.77H49V318.68H49.25V319.65H49.5V318.5H49.75V321.32H50V315.18H50.25V321.46H50.5V320.46H50.75V311.38H51V319.15H51.25V325.1H51.5V321.53H51.75V315.05H52V321.59H52.25V322.43H52.5V316.86H52.75V320.09H53V318.2H53.25V321.17H53.5V323.05H53.75V318.22H54V316.68H54.25V316.74H54.5V321.52H54.75V314.86H55V320.76H55.25V322.64H55.5V322.43H55.75V321.62H56V311.38H56.25V319.78H56.5V317.92H56.75V320.4H57V316.68H57.25V316.24H57.5V324.02H57.75V323.09H58V315.36H58.25V322.49H58.5V314.21H58.75V318.75H59V325.19H59.25V323.66H59.5V319.8H59.75V321.5H60V319.12H60.25V322.48H60.5V318.22H60.75V317.12H61V316.04H61.25V320.76H61.5V320.34H61.75V323.02H62V316.08H62.25V321.97H62.5V323.53H62.75V321.54H63V315.29H63.25V316.03H63.5V314.59H63.75V318.42H64V321.61H64.25V316H64.5V319.32H64.75V312.75H65V320.87H65.25V314.91H65.5V321.88H65.75V320.66H66V316.84H66.25V321.21H66.5V318.58H66.75V319.99H67V320.14H67.25V317.83H67.5V319.06H67.75V321.83H68V322.54H68.25V322.39H68.5V320.49H68.75V322.89H69V316.24H69.25V324.75H69.5V313.25H69.75V323.17H70V322.27H70.25V319.24H70.5V322.3H70.75V324H71V316.73H71.25V321.33H71.5V311.38H71.75V321.28H72V314.15H72.25V321.54H72.5V312.02H72.75V319.69H73V323.25H73.25V318.96H73.5V324.77H73.75V320.44H74V317.49H74.25V324.18H74.5V317H74.75V321.24H75V324.22H75.25V324.16H75.5V320.79H75.75V317.61H76V320.28H76.25V318.39H76.5V318.63H76.75V318.6H77V317.34H77.25V313.06H77.5V322.25H77.75V311.38H78V320.88H78.25V319.41H78.5V321.32H78.75V320.72H79V320.03H79.25V322.06H79.5V320.55H79.75V323.04H80V320.64H80.25V322.88H80.5V322.76H80.75V321.53H81V318.6H81.25V319.89H81.5V314.53H81.75V321.54H82V320.92H82.25V322.11H82.5V314.64H82.75V315.68H83V320.77H83.25V321.38H83.5V313.92H83.75V311.65H84V318.1H84.25V318.13H84.5V312.97H84.75V314.67H85V316.78H85.25V311.38H85.5V315.86H85.75V311.38H86V318.65H86.25V321.55H86.5V320.87H86.75V320.45H87V319.63H87.25V316.65H87.5V312.96H87.75V316.6H88V323.41H88.25V321.91H88.5V320.18H88.75V320.56H89V321.46H89.25V322.03H89.5V317.5H89.75V322.01H90V320.75H90.25V317.84H90.5V318.05H90.75V316.5H91V320.2H91.25V323.94H91.5V321.9H91.75V316.44H92V315.62H92.25V318.03H92.5V316.41H92.75V315.99H93V321.5H93.25V318.28H93.5V320.48H93.75V318.48H94V324.57H94.25V320.76H94.5V316.32H94.75V322.12H95V318.34H95.25V319.83H95.5V318.4H95.75V320.19H96V318.63H96.25V318.78H96.5V316.8H96.75V324.27H97V317.43H97.25V318.23H97.5V319.48H97.75V315.86H98V317.67H98.25V319.52H98.5V320.9H98.75V320.54H99V319.29H99.25V321.67H99.5V322.25H99.75V318.49H100V318.32H100.25V321.56H100.5V319.83H100.75V322.97H101V311.38H101.25V320.8H101.5V319.44H101.75V318.11H102V323.46H102.25V318.12H102.5V322.9H102.75V323.49H103V325.04H103.25V316.51H103.5V317.3H103.75V315.49H104V319.29H104.25V323.99H104.5V321.75H104.75V317.22H105V316.17H105.25V322.51H105.5V321.62H105.75V311.38H106V321.31H106.25V317.7H106.5V318.9H106.75V315.96H107V325.55H107.25V320.32H107.5V321.36H107.75V317.61H108V319.47H108.25V321.51H108.5V322.13H108.75V323.56H109V318.05H109.25V318.02H109.5V319.5H109.75V318.59H110V322.52H110.25V319.24H110.5V319.34H110.75V320.27H111V320.84H111.25V319.14H111.5V311.38H111.75V321.64H112V315.72H112.25V322.74H112.5V317.76H112.75V317.84H113V320.15H113.25V323.08H113.5V318.97H113.75V319.88H114V319.38H114.25V315.43H114.5V318.15H114.75V323.17H115V323.44H115.25V317.8H115.5V323.26H115.75V311.38H116V321.63H116.25V311.72H116.5V319.6H116.75V319.47H117V319.73H117.25V323.88H117.5V319.15H117.75V311.38H118V315.82H118.25V322.19H118.5V316.35H118.75V314.31H119V317.51H119.25V324.78H119.5V320.05H119.75V316.75H120V321.57H120.25V319.46H120.5V320.69H120.75V325.63H121V321.65H121.25V320.47H121.5V326.01H121.75V320.32H122V319.79H122.25V322.67H122.5V324.08H122.75V321.69H123V319.11H123.25V319.49H123.5V311.38H123.75V317.73H124V322.05H124.25V319.97H124.5V322.63H124.75V321.17H125V320.44H125.25V322.07H125.5V319.78H125.75V321.07H126V319.75H126.25V318.64H126.5V321.66H126.75V313.98H127V323.97H127.25V323.62H127.5V322.05H127.75V319.39H128V319.3H128.25V318.83H128.5V319.27H128.75V317.02H129V321.8H129.25V322.48H129.5V319.57H129.75V322.22H130V317.87H130.25V322.34H130.5V323.97H130.75V320.96H131V323.78H131.25V321.36H131.5V321H131.75V319.57H132V313.68H132.25V315.61H132.5V322.15H132.75V316.58H133V320.99H133.25V316.16H133.5V321.62H133.75V323.68H134V320.72H134.25V312.65H134.5V321.69H134.75V319.85H135V322.8H135.25V316.45H135.5V318.38H135.75V323.57H136V322.63H136.25V323.42H136.5V320.44H136.75V321.57H137V323.92H137.25V321.49H137.5V315.11H137.75V316.77H138V311.38H138.25V315.89H138.5V312.17H138.75V319.37H139V321.14H139.25V322.93H139.5V319.55H139.75V316.63H140V323.22H140.25V323.35H140.5V324.42H140.75V311.47H141V320.8H141.25V321.1H141.5V320.49H141.75V317.12H142V323.51H142.25V320.56H142.5V312.84H142.75V319.1H143V322.04H143.25V317.67H143.5V322.4H143.75V317.75H144V320.06H144.25V318.8H144.5V316.45H144.75V323.5H145V319.34H145.25V322.39H145.5V323.61H145.75V318.57H146V311.38H146.25V320.44H146.5V317.86H146.75V323.06H147V316.81H147.25V321.81H147.5V311.91H147.75V318.32H148V317.46H148.25V347.7V373.07H148V374.61H147.75V379.44H147.5V371.5H147.25V379.56H147V372.69H146.75V377.15H146.5V377.88H146.25V380.33H146V372.27H145.75V376.71H145.5V381.89H145.25V371.7H145V379.1H144.75V379.79H144.5V376.07H144.25V373.51H144V378.19H143.75V373.5H143.5V376.06H143.25V376.61H143V376H142.75V377.1H142.5V375.89H142.25V377.11H142V373.69H141.75V379.23H141.5V377.22H141.25V378.49H141V377.63H140.75V373.9H140.5V377.53H140.25V375.56H140V378.78H139.75V371.96H139.5V371.45H139.25V374.22H139V377.92H138.75V370.72H138.5V376.22H138.25V376.19H138V371.26H137.75V378.38H137.5V378.53H137.25V383.27H137V375.13H136.75V371.89H136.5V375.5H136.25V374.21H136V378.29H135.75V374.94H135.5V371.93H135.25V376.24H135V381.36H134.75V374.76H134.5V374.64H134.25V378.49H134V375.66H133.75V373.27H133.5V372.01H133.25V374.93H133V376.92H132.75V371.66H132.5V377.91H132.25V372.92H132V379.21H131.75V374.21H131.5V374.59H131.25V378.42H131V373.39H130.75V376.31H130.5V384.02H130.25V374.98H130V377.22H129.75V375.16H129.5V374.4H129.25V374.65H129V371.98H128.75V375.54H128.5V378.61H128.25V381.12H128V375.32H127.75V373.47H127.5V374.93H127.25V379.85H127V373.97H126.75V379.93H126.5V380.88H126.25V373.4H126V376.33H125.75V376.52H125.5V370.72H125.25V375.95H125V379.25H124.75V376.36H124.5V377.95H124.25V374.28H124V372.71H123.75V378.06H123.5V374.02H123.25V373.68H123V374.45H122.75V370.83H122.5V376.88H122.25V373.37H122V370.54H121.75V371.47H121.5V372.03H121.25V380.12H121V373.55H120.75V374.69H120.5V374.04H120.25V381.28H120V373.45H119.75V379.9H119.5V374.21H119.25V372.09H119V381.72H118.75V378.86H118.5V372.97H118.25V373.81H118V373.99H117.75V378.95H117.5V376.38H117.25V374.65H117V372.99H116.75V373.83H116.5V376.37H116.25V373.98H116V381.86H115.75V377.41H115.5V378.15H115.25V377.09H115V375.11H114.75V380.2H114.5V372.23H114.25V371.42H114V384.02H113.75V375.74H113.5V376.09H113.25V380.18H113V374.4H112.75V371.99H112.5V375.75H112.25V377.72H112V375.88H111.75V372.92H111.5V376.21H111.25V375.77H111V375.97H110.75V374.93H110.5V375.06H110.25V371.92H110V376.37H109.75V373.51H109.5V373.79H109.25V377.74H109V384.02H108.75V377.32H108.5V374.82H108.25V372.52H108V377.67H107.75V377.72H107.5V370.92H107.25V372.27H107V371.96H106.75V384.02H106.5V373.14H106.25V374.8H106V376.36H105.75V379.48H105.5V372.53H105.25V371.21H105V374.37H104.75V376.51H104.5V373.3H104.25V380.07H104V371.96H103.75V381.85H103.5V371.49H103.25V376.12H103V375.69H102.75V374.11H102.5V380.6H102.25V372.01H102V374.98H101.75V372.21H101.5V370.23H101.25V379.18H101V371.66H100.75V378.66H100.5V376.39H100.25V374.24H100V375.71H99.75V376.63H99.5V373.83H99.25V375.27H99V376.34H98.75V373.15H98.5V373.93H98.25V378.79H98V377.72H97.75V372.15H97.5V376.45H97.25V373.25H97V378.21H96.75V372.94H96.5V379.62H96.25V374.06H96V379.3H95.75V377.34H95.5V374.74H95.25V374.35H95V375.01H94.75V377.74H94.5V374.18H94.25V375.18H94V373.84H93.75V374.28H93.5V375H93.25V373.9H93V373.72H92.75V373.7H92.5V384.02H92.25V377.78H92V374.77H91.75V372.67H91.5V373.01H91.25V373.72H91V371.88H90.75V371.3H90.5V372.84H90.25V375.79H90V377.26H89.75V373.78H89.5V376.51H89.25V372.25H89V373.75H88.75V374.65H88.5V373.3H88.25V374.74H88V374.59H87.75V372.67H87.5V375.21H87.25V373.1H87V373.59H86.75V373.82H86.5V373.56H86.25V378.05H86V377.89H85.75V375.78H85.5V372.43H85.25V372.28H85V374.1H84.75V375.39H84.5V375.45H84.25V378.06H84V374.84H83.75V378.81H83.5V375.47H83.25V375.8H83V380.18H82.75V373.72H82.5V375.71H82.25V377.82H82V375.88H81.75V375.86H81.5V378.59H81.25V371.81H81V375.89H80.75V371.67H80.5V372.23H80.25V374.75H80V372.72H79.75V378.82H79.5V372.11H79.25V373.69H79V377.93H78.75V376.62H78.5V370.04H78.25V375.18H78V371.22H77.75V377.47H77.5V377.02H77.25V375.81H77V374.2H76.75V379H76.5V376.6H76.25V377.9H76V373.61H75.75V373.82H75.5V374.57H75.25V378.06H75V377.51H74.75V378.69H74.5V373.97H74.25V374.66H74V374.68H73.75V372.97H73.5V375.28H73.25V372.36H73V374.29H72.75V377.02H72.5V374.27H72.25V374.68H72V373.43H71.75V373.96H71.5V375.78H71.25V376.35H71V378.63H70.75V373.13H70.5V376.47H70.25V374.81H70V373.64H69.75V374.53H69.5V373.27H69.25V378.73H69V381.04H68.75V382.02H68.5V382.14H68.25V379.67H68V372.29H67.75V375.66H67.5V380.17H67.25V374.57H67V371.15H66.75V374.2H66.5V374.21H66.25V374.82H66V372.34H65.75V375.99H65.5V377.63H65.25V374.97H65V371.84H64.75V372.98H64.5V384.02H64.25V376.93H64V376.4H63.75V376.53H63.5V377.91H63.25V377.02H63V378.24H62.75V384.02H62.5V374.39H62.25V374.35H62V373.95H61.75V373.92H61.5V375.31H61.25V378.65H61V379.98H60.75V376.38H60.5V375.7H60.25V376.52H60V381.15H59.75V372.39H59.5V369.45H59.25V375.27H59V379.64H58.75V376.16H58.5V374.09H58.25V372.49H58V376.36H57.75V375.26H57.5V376.05H57.25V375.58H57V373.65H56.75V381.66H56.5V372.96H56.25V375.91H56V384.02H55.75V373.4H55.5V384.02H55.25V382.55H55V377.23H54.75V373.16H54.5V374.3H54.25V382.76H54V371.26H53.75V371.25H53.5V377.31H53.25V373.81H53V375.7H52.75V372.87H52.5V372.92H52.25V373.23H52V377.35H51.75V375.02H51.5V378.78H51.25V372.89H51V371.71H50.75V373.4H50.5V379.31H50.25V373.33H50V380.25H49.75V372.12H49.5V370.56H49.25V373.37H49V374.13H48.75V375.67H48.5V374.24H48.25V372.86H48V373.7H47.75V371.91H47.5V372.1H47.25V374.78H47V374.49H46.75V377.45H46.5V376.99H46.25V379.4H46V377.44H45.75V376.86H45.5V374.54H45.25V376.04H45V371.57H44.75V373.5H44.5V372.4H44.25V375.3H44V381.8H43.75V373.93H43.5V374.45H43.25V374.52H43V371.24H42.75V376.15H42.5V375.79H42.25V373.01H42V376.48H41.75V377.15H41.5V373.35H41.25V373.6H41V379.67H40.75V379.18H40.5V383.92H40.25V374.95H40V377.13H39.75V375.2H39.5V373.13H39.25V379.72H39V369.98H38.75V373.94H38.5V373.54H38.25V376.75H38V375.35H37.75V372.7H37.5V379.57H37.25V379.3H37V374.23H36.75V373.68H36.5V379.07H36.25V381.55H36V374.97H35.75V377.71H35.5V384.02H35.25V373.62H35V374.08H34.75V375.19H34.5V371.4H34.25V375.7H34V376.6H33.75V378.87H33.5V376.92H33.25V375.54H33V370.94H32.75V373.17H32.5V374.38H32.25V374.62H32V379.22H31.75V374.15H31.5V375.81H31.25V370.58H31V377.37H30.75V380.84H30.5V374.34H30.25V373.32H30V373.13H29.75V375.11H29.5V374.34H29.25V374.08H29V373.57H28.75V378.12H28.5V374.47H28.25V372.54H28V377.18H27.75V373.76H27.5V373.89H27.25V372.76H27V373.01H26.75V378.11H26.5V374.77H26.25V373.95H26V375.96H25.75V378H25.5V384.02H25.25V376.04H25V380.28H24.75V380.54H24.5V375.02H24.25V374.92H24V375.79H23.75V373.3H23.5V372.91H23.25V380.11H23V373.87H22.75V378.27H22.5V376.93H22.25V371.7H22V377.63H21.75V374.79H21.5V372.87H21.25V374H21V371.82H20.75V376.4H20.5V380.15H20.25V373.67H20V373.99H19.75V372.19H19.5Z" fill="#ff0000"/>
<path d="M124.18 307.7h0.4V377.7h-0.4Z" fill="#ff0000"/>
<g class="t">
<text x="83.5" y="398.6" font-size="4.2" text-anchor="middle" fill="#2a2a2a">Number of Samples</text>
<text x="8" y="341" font-size="4.0" text-anchor="middle" fill="#2a2a2a" transform="rotate(-90 8 341)">dB</text>
<text x="139.7" y="399.2" font-size="3.5" fill="#222">x 10<tspan dy="-1.5" font-size="2.62">5</tspan></text>
</g></g>
<g id="plot-h"><rect x="195.8" y="295.4" width="127.9" height="90.7" fill="none" stroke="#808080" stroke-width="0.8"/>
<path d="M208.59 386.1v-1.4M208.59 295.4v1.4M221.38 386.1v-1.4M221.38 295.4v1.4M234.17 386.1v-1.4M234.17 295.4v1.4M246.96 386.1v-1.4M246.96 295.4v1.4M259.75 386.1v-1.4M259.75 295.4v1.4M272.54 386.1v-1.4M272.54 295.4v1.4M285.33 386.1v-1.4M285.33 295.4v1.4M298.12 386.1v-1.4M298.12 295.4v1.4M310.91 386.1v-1.4M310.91 295.4v1.4M195.8 306.74h1.4M323.7 306.74h-1.4M195.8 318.07h1.4M323.7 318.07h-1.4M195.8 329.41h1.4M323.7 329.41h-1.4M195.8 340.75h1.4M323.7 340.75h-1.4M195.8 352.09h1.4M323.7 352.09h-1.4M195.8 363.43h1.4M323.7 363.43h-1.4M195.8 374.76h1.4M323.7 374.76h-1.4" stroke="#808080" stroke-width="0.6" fill="none"/>
<g class="t"><text x="195.8" y="391.7" font-size="3.5" text-anchor="middle" fill="#222">0</text><text x="208.59" y="391.7" font-size="3.5" text-anchor="middle" fill="#222">1</text><text x="221.38" y="391.7" font-size="3.5" text-anchor="middle" fill="#222">2</text><text x="234.17" y="391.7" font-size="3.5" text-anchor="middle" fill="#222">3</text><text x="246.96" y="391.7" font-size="3.5" text-anchor="middle" fill="#222">4</text><text x="259.75" y="391.7" font-size="3.5" text-anchor="middle" fill="#222">5</text><text x="272.54" y="391.7" font-size="3.5" text-anchor="middle" fill="#222">6</text><text x="285.33" y="391.7" font-size="3.5" text-anchor="middle" fill="#222">7</text><text x="298.12" y="391.7" font-size="3.5" text-anchor="middle" fill="#222">8</text><text x="310.91" y="391.7" font-size="3.5" text-anchor="middle" fill="#222">9</text><text x="323.7" y="391.7" font-size="3.5" text-anchor="middle" fill="#222">10</text><text x="194.2" y="296.86" font-size="3.5" text-anchor="end" fill="#222">2</text><text x="194.2" y="308.2" font-size="3.5" text-anchor="end" fill="#222">1.5</text><text x="194.2" y="319.53" font-size="3.5" text-anchor="end" fill="#222">1</text><text x="194.2" y="330.87" font-size="3.5" text-anchor="end" fill="#222">0.5</text><text x="194.2" y="342.21" font-size="3.5" text-anchor="end" fill="#222">0</text><text x="194.2" y="353.55" font-size="3.5" text-anchor="end" fill="#222">-0.5</text><text x="194.2" y="364.88" font-size="3.5" text-anchor="end" fill="#222">-1</text><text x="194.2" y="376.22" font-size="3.5" text-anchor="end" fill="#222">-1.5</text><text x="194.2" y="387.56" font-size="3.5" text-anchor="end" fill="#222">-2</text></g>
<path d="M196.25 340.75V309.88H196.5V313.6H196.75V311.22H197V306.89H197.25V314.66H197.5V309.44H197.75V312.03H198V313.82H198.25V314.09H198.5V315.56H198.75V312.97H199V309.58H199.25V308.27H199.5V313.33H199.75V312.73H200V310.79H200.25V309.82H200.5V311.58H200.75V311.19H201V311.71H201.25V311.64H201.5V314.01H201.75V312.28H202V314.59H202.25V312.57H202.5V311.18H202.75V315.2H203V313.39H203.25V314.43H203.5V310.38H203.75V315.72H204V313.09H204.25V311.47H204.5V310.38H204.75V308.28H205V305.94H205.25V309.75H205.5V310.9H205.75V312.4H206V311.56H206.25V306.79H206.5V309.36H206.75V305.21H207V306.9H207.25V311.32H207.5V313.58H207.75V309.77H208V314.95H208.25V316.39H208.5V313.21H208.75V307.39H209V310.01H209.25V312.7H209.5V315.52H209.75V316.32H210V314.08H210.25V315.01H210.5V308.86H210.75V312.76H211V312.57H211.25V310.53H211.5V312.91H211.75V312.93H212V315.69H212.25V307.77H212.5V311.04H212.75V309.72H213V310.34H213.25V311.22H213.5V311.56H213.75V315.46H214V311.28H214.25V312.36H214.5V309.88H214.75V310.57H215V310.6H215.25V312.98H215.5V311.05H215.75V310.66H216V312.29H216.25V304.79H216.5V314.12H216.75V306.65H217V311.32H217.25V315.64H217.5V309.01H217.75V306.4H218V311.81H218.25V312.72H218.5V311.33H218.75V309.91H219V313.18H219.25V312.56H219.5V310.94H219.75V312.58H220V313.77H220.25V312.12H220.5V311.21H220.75V312.49H221V311.97H221.25V308.22H221.5V314.53H221.75V308.81H222V313.69H222.25V311.86H222.5V313.9H222.75V312.46H223V314.2H223.25V312.14H223.5V310.42H223.75V313.7H224V314.12H224.25V312.18H224.5V314.78H224.75V313.31H225V314.72H225.25V309.85H225.5V315.07H225.75V313.8H226V315.06H226.25V311.19H226.5V312.63H226.75V314.7H227V313.3H227.25V310.82H227.5V310.82H227.75V315.18H228V313.2H228.25V306.94H228.5V310.37H228.75V312.48H229V309.77H229.25V311.91H229.5V313.05H229.75V307.98H230V310.57H230.25V314.37H230.5V306.54H230.75V308.67H231V314.04H231.25V313.22H231.5V312.11H231.75V314.33H232V309.9H232.25V304.79H232.5V313.77H232.75V312.73H233V310.78H233.25V312.34H233.5V307.76H233.75V310.69H234V312.21H234.25V313.86H234.5V310.67H234.75V306.97H235V307.87H235.25V310.51H235.5V312.55H235.75V312.98H236V313.1H236.25V314.23H236.5V313.03H236.75V313.01H237V312.53H237.25V312.83H237.5V313.23H237.75V315.36H238V309.39H238.25V312.91H238.5V308.79H238.75V309.76H239V314.57H239.25V311.43H239.5V312.55H239.75V309.89H240V312.04H240.25V305.34H240.5V312.43H240.75V315.04H241V313.13H241.25V312.86H241.5V312.29H241.75V310.84H242V313.74H242.25V311.62H242.5V311.29H242.75V312.65H243V315.84H243.25V313.67H243.5V313.31H243.75V309.19H244V314.33H244.25V312.16H244.5V313.29H244.75V312.73H245V314.03H245.25V306.34H245.5V308.72H245.75V311.03H246V310.22H246.25V313.5H246.5V309.01H246.75V308.49H247V312.66H247.25V307.85H247.5V314.24H247.75V311.4H248V311.21H248.25V312.88H248.5V315.67H248.75V310.91H249V310.41H249.25V311.45H249.5V313.8H249.75V315.12H250V309.45H250.25V305.93H250.5V310.93H250.75V311.01H251V313.5H251.25V313.2H251.5V313.6H251.75V311.54H252V311.73H252.25V315.06H252.5V306.75H252.75V305.17H253V304.79H253.25V314.1H253.5V312.28H253.75V313.21H254V312.88H254.25V313.69H254.5V312.12H254.75V311.04H255V308.42H255.25V311.34H255.5V309.45H255.75V314.44H256V313.15H256.25V310.19H256.5V311.7H256.75V311.39H257V312.21H257.25V314.6H257.5V310.12H257.75V312.34H258V311.8H258.25V314.83H258.5V309.66H258.75V312.55H259V307.7H259.25V311.94H259.5V314.8H259.75V312.87H260V305.5H260.25V315.3H260.5V311.96H260.75V312.21H261V314.73H261.25V312.29H261.5V309.61H261.75V311.21H262V313.03H262.25V310.92H262.5V309.03H262.75V310.94H263V307.84H263.25V307.78H263.5V308.34H263.75V311.79H264V310.54H264.25V309.25H264.5V313.11H264.75V312.36H265V313.71H265.25V309.18H265.5V312.72H265.75V310.38H266V311.98H266.25V311.74H266.5V312.4H266.75V312.33H267V314.54H267.25V312.65H267.5V310.94H267.75V313.41H268V308.97H268.25V313.3H268.5V312.27H268.75V310.14H269V313.21H269.25V308.29H269.5V305.86H269.75V310.25H270V311.77H270.25V312.64H270.5V310.63H270.75V312.29H271V315.25H271.25V316.23H271.5V312.89H271.75V310.3H272V311.49H272.25V313.31H272.5V313.83H272.75V314.53H273V310.97H273.25V310.5H273.5V310.42H273.75V313.09H274V314.52H274.25V311.81H274.5V311.17H274.75V312.5H275V311.01H275.25V311.84H275.5V308.93H275.75V307.65H276V311.01H276.25V309.99H276.5V308.67H276.75V314.89H277V312.75H277.25V310.9H277.5V315.57H277.75V308.05H278V310.81H278.25V314.14H278.5V315.18H278.75V313.57H279V309.52H279.25V312.45H279.5V307.42H279.75V307.14H280V314.09H280.25V304.79H280.5V308.17H280.75V308.36H281V313.12H281.25V312.72H281.5V309.96H281.75V311.56H282V315.03H282.25V309.94H282.5V307.47H282.75V313H283V308.48H283.25V312.44H283.5V310.42H283.75V305.98H284V313.07H284.25V313.7H284.5V310.98H284.75V309.32H285V315.62H285.25V310.4H285.5V310.5H285.75V311.45H286V310.38H286.25V310.38H286.5V315.09H286.75V308.13H287V314.38H287.25V312.78H287.5V306.55H287.75V309.7H288V313.33H288.25V312.71H288.5V310.41H288.75V310.95H289V315.1H289.25V313.64H289.5V313.29H289.75V315.11H290V310.47H290.25V311.25H290.5V314.21H290.75V311.85H291V312.06H291.25V314.12H291.5V317.2H291.75V314.69H292V314.07H292.25V312.26H292.5V313.8H292.75V310.44H293V310.59H293.25V310.05H293.5V313.25H293.75V315.24H294V313.65H294.25V310.49H294.5V313H294.75V311.22H295V314.04H295.25V312.04H295.5V310.25H295.75V310.58H296V307.74H296.25V310.83H296.5V310.6H296.75V311.39H297V312.54H297.25V314.32H297.5V313.49H297.75V312.07H298V310.74H298.25V308.98H298.5V312.14H298.75V306.77H299V306.35H299.25V312.32H299.5V308.74H299.75V313.45H300V312.34H300.25V311.64H300.5V314.26H300.75V308.18H301V310.07H301.25V311.45H301.5V314.5H301.75V307H302V311.95H302.25V313.99H302.5V308.24H302.75V312.46H303V312.4H303.25V310.51H303.5V311.65H303.75V314.31H304V311.47H304.25V311.37H304.5V312H304.75V305.44H305V313.4H305.25V306.42H305.5V315.33H305.75V315.27H306V313.95H306.25V314.66H306.5V312.88H306.75V311.06H307V312.89H307.25V313.37H307.5V309.24H307.75V313.85H308V311.03H308.25V312.44H308.5V310.78H308.75V310.87H309V314.53H309.25V313.8H309.5V307.43H309.75V313.8H310V314.91H310.25V313.29H310.5V313.33H310.75V310.71H311V313.52H311.25V311.6H311.5V315.08H311.75V313.49H312V311.02H312.25V314.46H312.5V313.84H312.75V310.02H313V310.18H313.25V304.79H313.5V313.8H313.75V308.05H314V310.63H314.25V313.52H314.5V311.02H314.75V310.87H315V307.55H315.25V307.06H315.5V312.51H315.75V308.96H316V315.2H316.25V305.48H316.5V310.85H316.75V309.51H317V314.42H317.25V313.33H317.5V308.41H317.75V306.9H318V307.67H318.25V313.3H318.5V313.26H318.75V312.66H319V311.93H319.25V311.66H319.5V312.63H319.75V308.46H320V313.93H320.25V313.86H320.5V313.26H320.75V310.1H321V309.83H321.25V315.33H321.5V314.69H321.75V313.23H322V313.41H322.25V311.45H322.5V313.84H322.75V312.66H323V311.26H323.25V312.79H323.5V340.75V372.22H323.25V367.59H323V367.81H322.75V367.19H322.5V368.74H322.25V369.86H322V370.43H321.75V366.58H321.5V370.21H321.25V369.4H321V369.3H320.75V367.81H320.5V375.95H320.25V372.74H320V372.64H319.75V370.93H319.5V367.7H319.25V372.85H319V370.52H318.75V370.36H318.5V376.55H318.25V369.77H318V370.44H317.75V365.88H317.5V367.22H317.25V367.09H317V369.64H316.75V365.93H316.5V368.61H316.25V369.93H316V371.8H315.75V371.54H315.5V365.82H315.25V374.77H315V366.35H314.75V372.25H314.5V368.84H314.25V371.83H314V376.71H313.75V367.45H313.5V368.77H313.25V369.3H313V369.81H312.75V367.5H312.5V367.13H312.25V366.6H312V371.69H311.75V375.88H311.5V372.43H311.25V371.38H311V367.54H310.75V366.14H310.5V370.65H310.25V369.34H310V373.23H309.75V366.82H309.5V370.13H309.25V369.15H309V368.4H308.75V375.25H308.5V366.85H308.25V368.81H308V365.7H307.75V369.42H307.5V367.27H307.25V369.38H307V373.86H306.75V369.98H306.5V368.03H306.25V369.53H306V372.03H305.75V368.53H305.5V369.86H305.25V367.27H305V372.55H304.75V369.39H304.5V371.11H304.25V369.04H304V366.7H303.75V373.6H303.5V370.88H303.25V374.72H303V376.71H302.75V371.14H302.5V370.38H302.25V367.93H302V368.43H301.75V373.41H301.5V369.95H301.25V368.71H301V370.71H300.75V374.05H300.5V371.01H300.25V371.61H300V370.54H299.75V376.31H299.5V368.37H299.25V373.98H299V366.84H298.75V374.17H298.5V376.71H298.25V370.53H298V368.11H297.75V371.1H297.5V369.29H297.25V366.95H297V369.8H296.75V372.6H296.5V369.43H296.25V368.34H296V375.22H295.75V370.7H295.5V369.05H295.25V366.94H295V368.55H294.75V367.99H294.5V368.29H294.25V368.44H294V370.62H293.75V370.85H293.5V376.71H293.25V369.82H293V369.78H292.75V369.58H292.5V370.61H292.25V369.29H292V374.75H291.75V367.52H291.5V367.04H291.25V373.3H291V366.19H290.75V367.58H290.5V375.05H290.25V366.67H290V371.49H289.75V370H289.5V367.52H289.25V369.69H289V367.31H288.75V365.92H288.5V370.6H288.25V371.66H288V371.3H287.75V367.77H287.5V371.48H287.25V369H287V372.29H286.75V367.91H286.5V367.82H286.25V376.71H286V369.68H285.75V373.46H285.5V369.53H285.25V369.13H285V367.8H284.75V372.92H284.5V367.14H284.25V374.19H284V370.29H283.75V368.74H283.5V366.56H283.25V371.2H283V367.46H282.75V373.68H282.5V371.05H282.25V369.58H282V375.17H281.75V371.52H281.5V369.56H281.25V375.41H281V367.22H280.75V374.33H280.5V368.19H280.25V369.33H280V370.89H279.75V369.17H279.5V373.63H279.25V369.29H279V371.1H278.75V368.45H278.5V366.26H278.25V366.21H278V367.8H277.75V367.48H277.5V368.94H277.25V369.31H277V372.26H276.75V370.34H276.5V370.62H276.25V369.2H276V375.92H275.75V369.57H275.5V369.58H275.25V372.22H275V366.82H274.75V369.42H274.5V367.81H274.25V371.37H274V371.63H273.75V369.38H273.5V369.42H273.25V369.33H273V364.8H272.75V375.43H272.5V368.05H272.25V368.28H272V367.81H271.75V368.98H271.5V368.65H271.25V368.73H271V375.05H270.75V369.97H270.5V368.39H270.25V369.66H270V368.55H269.75V367.13H269.5V369.61H269.25V371.16H269V372.45H268.75V375.93H268.5V370.87H268.25V371.38H268V371.11H267.75V369.06H267.5V369.02H267.25V369.07H267V373.79H266.75V369.45H266.5V368.08H266.25V369.26H266V366.46H265.75V369.23H265.5V371.12H265.25V370.79H265V370.73H264.75V367.13H264.5V370.88H264.25V368.86H264V372.98H263.75V368.2H263.5V370.72H263.25V372.73H263V369.61H262.75V366.88H262.5V368.31H262.25V366.39H262V369.4H261.75V373.32H261.5V368.89H261.25V372.77H261V368.88H260.75V371.34H260.5V370.34H260.25V371.28H260V372.9H259.75V368.9H259.5V373.2H259.25V371.74H259V366.73H258.75V371.94H258.5V369.99H258.25V370.55H258V374.68H257.75V371.93H257.5V368.13H257.25V371.6H257V370.45H256.75V368.51H256.5V369.57H256.25V368.82H256V372.71H255.75V376.71H255.5V369.75H255.25V369.16H255V369.97H254.75V372.95H254.5V371.48H254.25V369.29H254V368.31H253.75V376.71H253.5V368.62H253.25V367.23H253V369.5H252.75V367.87H252.5V376.71H252.25V366.67H252V369.26H251.75V368.14H251.5V371.38H251.25V368.1H251V366.67H250.75V367.58H250.5V371.09H250.25V370H250V369.12H249.75V367.9H249.5V369.66H249.25V367.89H249V368.68H248.75V370.36H248.5V376.71H248.25V368.85H248V368.89H247.75V369.66H247.5V368.74H247.25V367.41H247V368.85H246.75V368.4H246.5V369.5H246.25V371.08H246V368.79H245.75V366.84H245.5V368.33H245.25V366.14H245V367.98H244.75V368.76H244.5V372.36H244.25V365.25H244V372.25H243.75V368.13H243.5V370.75H243.25V370.36H243V372.08H242.75V367.63H242.5V367.66H242.25V370.12H242V374.16H241.75V369.46H241.5V370.62H241.25V372.17H241V367.27H240.75V367.27H240.5V371.31H240.25V370.73H240V364.99H239.75V370.01H239.5V368.61H239.25V370.85H239V371.14H238.75V367.89H238.5V370.78H238.25V367.55H238V368.76H237.75V368.83H237.5V372.92H237.25V373.17H237V374.17H236.75V370.29H236.5V367.82H236.25V371.14H236V366.98H235.75V367.57H235.5V368.85H235.25V366.16H235V370.87H234.75V373.58H234.5V367.91H234.25V373.1H234V368.29H233.75V368H233.5V370.6H233.25V368.56H233V370.55H232.75V370.24H232.5V368.16H232.25V366.96H232V365.09H231.75V368.5H231.5V369.29H231.25V372.27H231V373.76H230.75V373.32H230.5V368.81H230.25V368.01H230V369.16H229.75V366.57H229.5V370.92H229.25V369.91H229V370.05H228.75V370.43H228.5V367.08H228.25V367.18H228V373.2H227.75V371.17H227.5V368.12H227.25V367.5H227V367.48H226.75V369.94H226.5V368.41H226.25V365.83H226V376.53H225.75V369.1H225.5V374.3H225.25V369.17H225V365.75H224.75V371.79H224.5V367.93H224.25V368.23H224V369.82H223.75V366.75H223.5V371.71H223.25V369.41H223V365.96H222.75V376.71H222.5V367.85H222.25V366.71H222V369.79H221.75V369.37H221.5V367.51H221.25V371.87H221V370.04H220.75V367.15H220.5V370.63H220.25V371.24H220V369.74H219.75V366.19H219.5V366.99H219.25V370.19H219V372.08H218.75V369.71H218.5V372.1H218.25V367.05H218V370.01H217.75V367.32H217.5V368.7H217.25V369.22H217V369.59H216.75V368.4H216.5V375.13H216.25V369.4H216V368.89H215.75V368.89H215.5V372.94H215.25V369.13H215V373.91H214.75V365.51H214.5V368.53H214.25V372.39H214V371.74H213.75V369.08H213.5V372.14H213.25V371.71H213V367.99H212.75V371.09H212.5V368.17H212.25V367.7H212V367.53H211.75V367.09H211.5V370.1H211.25V368.03H211V368.64H210.75V370.31H210.5V368.91H210.25V367.74H210V370H209.75V369.93H209.5V365.06H209.25V369.18H209V366.53H208.75V373.88H208.5V367.3H208.25V365.23H208V370.3H207.75V376.71H207.5V369.08H207.25V369.96H207V374.26H206.75V376.71H206.5V367.14H206.25V374.47H206V368.11H205.75V370.93H205.5V369.59H205.25V366.54H205V365.72H204.75V371.56H204.5V371.42H204.25V369.93H204V367.37H203.75V373.7H203.5V368.77H203.25V368.85H203V370.57H202.75V367.89H202.5V371.26H202.25V366.77H202V369.64H201.75V371.83H201.5V369.43H201.25V368.51H201V372.9H200.75V366.63H200.5V369.53H200.25V369.34H200V368.51H199.75V371.46H199.5V368.33H199.25V374.29H199V370.97H198.75V369.29H198.5V367.98H198.25V371.39H198V366.21H197.75V368.76H197.5V368.84H197.25V369.27H197V366.96H196.75V369.57H196.5V373.13H196.25Z" fill="#00ff00"/>
<path d="M287.05 300.75h0.4V370.75h-0.4ZM268.5 310.75h0.4V381.75h-0.4Z" fill="#00ff00"/>
<g class="t">
<text x="259.5" y="396.6" font-size="4.2" text-anchor="middle" fill="#2a2a2a">Number of Samples</text>
<text x="185" y="341" font-size="4.0" text-anchor="middle" fill="#2a2a2a" transform="rotate(-90 185 341)">dB</text>
<text x="314.5" y="397.6" font-size="3.5" fill="#222">x 10<tspan dy="-1.5" font-size="2.62">5</tspan></text>
</g></g>
<g id="plot-i"><rect x="367.5" y="295.4" width="123.1" height="90.4" fill="none" stroke="#808080" stroke-width="0.8"/>
<path d="M379.81 385.8v-1.4M379.81 295.4v1.4M392.12 385.8v-1.4M392.12 295.4v1.4M404.43 385.8v-1.4M404.43 295.4v1.4M416.74 385.8v-1.4M416.74 295.4v1.4M429.05 385.8v-1.4M429.05 295.4v1.4M441.36 385.8v-1.4M441.36 295.4v1.4M453.67 385.8v-1.4M453.67 295.4v1.4M465.98 385.8v-1.4M465.98 295.4v1.4M478.29 385.8v-1.4M478.29 295.4v1.4M367.5 310.47h1.4M490.6 310.47h-1.4M367.5 325.53h1.4M490.6 325.53h-1.4M367.5 340.6h1.4M490.6 340.6h-1.4M367.5 355.67h1.4M490.6 355.67h-1.4M367.5 370.73h1.4M490.6 370.73h-1.4" stroke="#808080" stroke-width="0.6" fill="none"/>
<g class="t"><text x="367.5" y="391.4" font-size="3.5" text-anchor="middle" fill="#222">0</text><text x="379.81" y="391.4" font-size="3.5" text-anchor="middle" fill="#222">1</text><text x="392.12" y="391.4" font-size="3.5" text-anchor="middle" fill="#222">2</text><text x="404.43" y="391.4" font-size="3.5" text-anchor="middle" fill="#222">3</text><text x="416.74" y="391.4" font-size="3.5" text-anchor="middle" fill="#222">4</text><text x="429.05" y="391.4" font-size="3.5" text-anchor="middle" fill="#222">5</text><text x="441.36" y="391.4" font-size="3.5" text-anchor="middle" fill="#222">6</text><text x="453.67" y="391.4" font-size="3.5" text-anchor="middle" fill="#222">7</text><text x="465.98" y="391.4" font-size="3.5" text-anchor="middle" fill="#222">8</text><text x="478.29" y="391.4" font-size="3.5" text-anchor="middle" fill="#222">9</text><text x="490.6" y="391.4" font-size="3.5" text-anchor="middle" fill="#222">10</text><text x="365.9" y="296.86" font-size="3.5" text-anchor="end" fill="#222">1.5</text><text x="365.9" y="311.93" font-size="3.5" text-anchor="end" fill="#222">1</text><text x="365.9" y="326.99" font-size="3.5" text-anchor="end" fill="#222">0.5</text><text x="365.9" y="342.06" font-size="3.5" text-anchor="end" fill="#222">0</text><text x="365.9" y="357.13" font-size="3.5" text-anchor="end" fill="#222">-0.5</text><text x="365.9" y="372.19" font-size="3.5" text-anchor="end" fill="#222">-1</text><text x="365.9" y="387.26" font-size="3.5" text-anchor="end" fill="#222">-1.5</text></g>
<path d="M368 340.6V302.09H368.25V303.96H368.5V309.15H368.75V305.14H369V309.29H369.25V310.4H369.5V308.73H369.75V309.94H370V304.35H370.25V303.53H370.5V304.01H370.75V297.28H371V309.79H371.25V303.51H371.5V307.35H371.75V304.5H372V306.63H372.25V305.94H372.5V307.99H372.75V303.71H373V304.9H373.25V302.73H373.5V305.16H373.75V309.06H374V310.45H374.25V297.28H374.5V309.1H374.75V308.22H375V301.04H375.25V302.96H375.5V309.35H375.75V303.56H376V309.65H376.25V306.59H376.5V310.98H376.75V306.39H377V302.41H377.25V307.29H377.5V306.03H377.75V300.6H378V308.77H378.25V309.28H378.5V310.36H378.75V307.46H379V307.02H379.25V303.35H379.5V310.35H379.75V308.13H380V307.54H380.25V307.73H380.5V308.88H380.75V304.87H381V301.61H381.25V311.11H381.5V298.39H381.75V304.31H382V306.21H382.25V299H382.5V304.59H382.75V308.93H383V307.01H383.25V306.78H383.5V297.28H383.75V305.65H384V301.98H384.25V305.4H384.5V305.34H384.75V305.66H385V304.75H385.25V308.24H385.5V305.83H385.75V309.25H386V304.84H386.25V302.43H386.5V304.93H386.75V308.89H387V305.04H387.25V308.57H387.5V307.75H387.75V304.45H388V303.4H388.25V302.06H388.5V306.13H388.75V307.83H389V304.5H389.25V310.04H389.5V297.28H389.75V308.4H390V303.2H390.25V312.29H390.5V301.93H390.75V310.11H391V305.94H391.25V304.69H391.5V299.35H391.75V303.81H392V305.45H392.25V309.98H392.5V310.6H392.75V300.9H393V306.72H393.25V298.39H393.5V301.24H393.75V306.73H394V306.15H394.25V308.98H394.5V308.93H394.75V302.16H395V306.66H395.25V307.92H395.5V307.78H395.75V306.46H396V306.01H396.25V306.28H396.5V305.13H396.75V306.39H397V308.8H397.25V304.4H397.5V305.16H397.75V305.18H398V308.38H398.25V303.31H398.5V305.06H398.75V307.41H399V305.07H399.25V308.55H399.5V306.05H399.75V300.9H400V304.6H400.25V301.75H400.5V305.11H400.75V304.67H401V304.62H401.25V308.3H401.5V308.95H401.75V307.67H402V307.77H402.25V308.82H402.5V308.84H402.75V302.51H403V308.81H403.25V302.31H403.5V303.75H403.75V308.08H404V302.06H404.25V309.84H404.5V309.29H404.75V297.28H405V307.05H405.25V309.53H405.5V306.44H405.75V306.22H406V306.65H406.25V306.43H406.5V306.65H406.75V307.35H407V310.06H407.25V300.97H407.5V303.82H407.75V297.28H408V300.22H408.25V303.22H408.5V309.32H408.75V304.79H409V306.97H409.25V304.73H409.5V311.09H409.75V303.49H410V305.61H410.25V305.29H410.5V303.59H410.75V300.71H411V305.47H411.25V303.33H411.5V297.57H411.75V309.1H412V304.88H412.25V297.28H412.5V307.05H412.75V305.91H413V307.38H413.25V304.96H413.5V302.22H413.75V306.97H414V305.27H414.25V309.01H414.5V304.81H414.75V303.54H415V302.95H415.25V303.95H415.5V303.72H415.75V306.38H416V305.16H416.25V310.38H416.5V303.48H416.75V309.8H417V304.96H417.25V306.06H417.5V310.14H417.75V308.33H418V310.05H418.25V306.65H418.5V304.8H418.75V307.3H419V307.26H419.25V298.75H419.5V301.14H419.75V309.31H420V307.31H420.25V308.14H420.5V302.64H420.75V309.85H421V303.79H421.25V301.73H421.5V304.52H421.75V304.42H422V299.37H422.25V308.3H422.5V308.38H422.75V302.75H423V306.04H423.25V308.45H423.5V304.72H423.75V305.64H424V303.19H424.25V305.32H424.5V303.98H424.75V307.85H425V302.08H425.25V297.76H425.5V308.64H425.75V302.16H426V305.7H426.25V306.86H426.5V303.88H426.75V308.68H427V303.74H427.25V302.31H427.5V299.21H427.75V308.18H428V302.34H428.25V308.11H428.5V304.6H428.75V308.42H429V299.8H429.25V307.62H429.5V309.46H429.75V306.53H430V300.92H430.25V310.5H430.5V307.27H430.75V302.37H431V309.23H431.25V299.9H431.5V300.9H431.75V297.28H432V305.87H432.25V304.37H432.5V299.87H432.75V305.08H433V308.18H433.25V300.3H433.5V306.43H433.75V302.01H434V305.53H434.25V304.07H434.5V303.5H434.75V297.28H435V305.96H435.25V305.08H435.5V306.76H435.75V302.42H436V310.1H436.25V297.28H436.5V302.73H436.75V306.76H437V301.89H437.25V303.56H437.5V305.89H437.75V307.59H438V308.63H438.25V304.4H438.5V306.95H438.75V297.37H439V309.12H439.25V307.37H439.5V309.25H439.75V303.52H440V306.26H440.25V308.11H440.5V297.93H440.75V308.78H441V307.87H441.25V308.45H441.5V302.89H441.75V308.22H442V306.7H442.25V302.52H442.5V302.3H442.75V309H443V305.47H443.25V304.33H443.5V305.35H443.75V307.97H444V302.76H444.25V303.23H444.5V307.64H444.75V309.64H445V307.82H445.25V310.15H445.5V304.57H445.75V305.22H446V305.48H446.25V305.14H446.5V304.26H446.75V308.37H447V304.43H447.25V305.74H447.5V306.05H447.75V311.54H448V304.74H448.25V307.44H448.5V304.77H448.75V308.07H449V305.03H449.25V297.28H449.5V306.08H449.75V304.55H450V303.83H450.25V304.09H450.5V297.28H450.75V307.79H451V306.44H451.25V307.07H451.5V306.75H451.75V305.46H452V305.89H452.25V306.01H452.5V309.44H452.75V304.78H453V302.39H453.25V300.73H453.5V304.59H453.75V306.32H454V306.29H454.25V307.27H454.5V306.93H454.75V300.48H455V304.89H455.25V304.8H455.5V301.41H455.75V306.56H456V307.93H456.25V299.07H456.5V306.37H456.75V301.77H457V307.96H457.25V306.51H457.5V300.2H457.75V306.4H458V303.92H458.25V303.53H458.5V307.58H458.75V305.83H459V309.79H459.25V309.68H459.5V309.02H459.75V305.66H460V309.42H460.25V300.62H460.5V308.23H460.75V304.78H461V308.59H461.25V297.82H461.5V306.31H461.75V299.96H462V303.98H462.25V306.19H462.5V301.72H462.75V307.03H463V305.65H463.25V302.87H463.5V305.66H463.75V304.92H464V297.76H464.25V306.76H464.5V306.72H464.75V308.37H465V308.7H465.25V304.08H465.5V306.12H465.75V305.88H466V298.54H466.25V306.67H466.5V303H466.75V304.44H467V305.9H467.25V305.04H467.5V303.07H467.75V307.76H468V299.92H468.25V305.59H468.5V301.72H468.75V308.21H469V308.44H469.25V306.58H469.5V307.96H469.75V307.02H470V306.28H470.25V306.99H470.5V308.48H470.75V302.68H471V307.04H471.25V302.31H471.5V305.12H471.75V304.12H472V306.46H472.25V306.61H472.5V308.87H472.75V308.11H473V299.74H473.25V302.52H473.5V298.89H473.75V307.27H474V304.58H474.25V310.26H474.5V303.32H474.75V309.82H475V307.88H475.25V307.92H475.5V306.89H475.75V309.14H476V303.74H476.25V308.99H476.5V309.17H476.75V306.95H477V307.31H477.25V303.61H477.5V306.06H477.75V306.66H478V304.57H478.25V299.1H478.5V309.82H478.75V308.23H479V305.09H479.25V306.33H479.5V306.72H479.75V310.03H480V306.48H480.25V307.52H480.5V307.92H480.75V301.15H481V306.46H481.25V309.4H481.5V308.42H481.75V309.42H482V302.66H482.25V308.03H482.5V304.07H482.75V309.07H483V308.32H483.25V305.26H483.5V306.79H483.75V306.02H484V309.69H484.25V306.42H484.5V300.67H484.75V306.5H485V297.28H485.25V302.3H485.5V306.07H485.75V305.63H486V300.2H486.25V304.58H486.5V303.94H486.75V304.07H487V305.47H487.25V298.28H487.5V298.08H487.75V303.36H488V307.28H488.25V309.19H488.5V307.61H488.75V300.34H489V308.11H489.25V308.23H489.5V308.44H489.75V307.38H490V303.72H490.25V305.86H490.5V340.6V375.58H490.25V376.73H490V375.92H489.75V374.98H489.5V374.76H489.25V381.11H489V374.65H488.75V385.3H488.5V373.13H488.25V375.09H488V377.16H487.75V379.64H487.5V373.45H487.25V381.25H487V376.42H486.75V371.72H486.5V376.99H486.25V376.18H486V373.98H485.75V373.96H485.5V369.86H485.25V375.48H485V377.67H484.75V378.6H484.5V376.83H484.25V371.75H484V375.27H483.75V374.69H483.5V379.41H483.25V373.01H483V373.65H482.75V373.04H482.5V373.39H482.25V378.73H482V377.37H481.75V371.23H481.5V376.65H481.25V374.9H481V379.06H480.75V371.9H480.5V375.3H480.25V373.74H480V373.3H479.75V373H479.5V378.9H479.25V380.61H479V377.29H478.75V380.97H478.5V385.3H478.25V375.77H478V376.76H477.75V375.15H477.5V373.45H477.25V372.63H477V377.62H476.75V381.97H476.5V372.32H476.25V372.87H476V374.84H475.75V371.96H475.5V376.61H475.25V378.24H475V381.73H474.75V375.9H474.5V377.25H474.25V371.68H474V377.02H473.75V373.21H473.5V379.55H473.25V373.71H473V379.64H472.75V375.75H472.5V381.76H472.25V372.28H472V376.48H471.75V378.57H471.5V375.08H471.25V377.69H471V379.15H470.75V372.54H470.5V375.37H470.25V381.58H470V380.24H469.75V378.09H469.5V381.29H469.25V380.85H469V373.08H468.75V384.43H468.5V375.55H468.25V369.72H468V373.76H467.75V373.03H467.5V376.66H467.25V373.1H467V378H466.75V380.73H466.5V372.42H466.25V374.64H466V376.68H465.75V372.05H465.5V385.3H465.25V372.51H465V373.16H464.75V377.21H464.5V378.57H464.25V375.74H464V378.37H463.75V375.57H463.5V385.3H463.25V383.48H463V379.31H462.75V373.59H462.5V379.22H462.25V374.61H462V378.31H461.75V374.22H461.5V375.53H461.25V375.99H461V377.21H460.75V374.38H460.5V377.18H460.25V374.2H460V383.27H459.75V376H459.5V372.17H459.25V377.18H459V372.76H458.75V374.11H458.5V374.32H458.25V374.35H458V375.12H457.75V385.3H457.5V373.97H457.25V374.43H457V379.08H456.75V385.3H456.5V376.98H456.25V374.24H456V379.84H455.75V378.1H455.5V377.64H455.25V379.46H455V371.52H454.75V372.08H454.5V385.3H454.25V375.2H454V379.53H453.75V372.9H453.5V371.35H453.25V376.96H453V380.38H452.75V377.75H452.5V374.26H452.25V372.26H452V377.51H451.75V376.95H451.5V374.26H451.25V375.58H451V378.1H450.75V376.57H450.5V375.62H450.25V381.27H450V370.59H449.75V370.56H449.5V378.04H449.25V376.72H449V372.56H448.75V373.29H448.5V380.96H448.25V374.82H448V375.57H447.75V374.04H447.5V378.93H447.25V377.69H447V373.58H446.75V370.95H446.5V377.55H446.25V372.98H446V371.37H445.75V375.22H445.5V375.24H445.25V372.79H445V375.06H444.75V383.06H444.5V376.11H444.25V376.76H444V371.61H443.75V374.62H443.5V373.07H443.25V379.91H443V372.98H442.75V376.68H442.5V380.51H442.25V383.3H442V371.94H441.75V371.36H441.5V374.89H441.25V375.33H441V385.3H440.75V375.31H440.5V375.29H440.25V370.87H440V372.67H439.75V372.61H439.5V375.29H439.25V385.3H439V373.97H438.75V373.16H438.5V373.66H438.25V375.32H438V375.43H437.75V373.55H437.5V381.66H437.25V383.77H437V375.5H436.75V375.63H436.5V369.71H436.25V371.55H436V373.14H435.75V381.46H435.5V381.64H435.25V379.1H435V382.41H434.75V380.35H434.5V376.53H434.25V374.48H434V382.33H433.75V375.17H433.5V373.31H433.25V374.68H433V373.17H432.75V379.67H432.5V373.49H432.25V378.45H432V377.78H431.75V373.22H431.5V374.37H431.25V376.13H431V376.11H430.75V376.08H430.5V382.34H430.25V383.56H430V373.92H429.75V378.17H429.5V377.92H429.25V373.45H429V371.55H428.75V377.88H428.5V381.03H428.25V373.16H428V375.29H427.75V378.18H427.5V376.82H427.25V373.44H427V383.29H426.75V375.69H426.5V385.3H426.25V377.42H426V377.35H425.75V375.18H425.5V378.05H425.25V376.43H425V376.1H424.75V377.33H424.5V385.3H424.25V383.46H424V371.96H423.75V371.34H423.5V382.61H423.25V376.16H423V379H422.75V375.58H422.5V376.29H422.25V373.66H422V374.43H421.75V374.49H421.5V375.66H421.25V374.68H421V380.23H420.75V374.33H420.5V383.85H420.25V376.99H420V381.71H419.75V380.4H419.5V381.05H419.25V372.1H419V376.5H418.75V373.34H418.5V373.48H418.25V370.57H418V371.36H417.75V371.64H417.5V376.12H417.25V380.53H417V376.05H416.75V380.42H416.5V374.97H416.25V377.41H416V377.61H415.75V371.62H415.5V377.72H415.25V375.58H415V369.96H414.75V370.37H414.5V373.44H414.25V371.65H414V380.78H413.75V371.2H413.5V379.55H413.25V372.87H413V371.85H412.75V371.91H412.5V377.15H412.25V381.44H412V374.55H411.75V383.98H411.5V378.06H411.25V376.08H411V373.79H410.75V372.82H410.5V373.25H410.25V374.69H410V370.15H409.75V380.59H409.5V375.57H409.25V371.45H409V380.92H408.75V375.9H408.5V379.66H408.25V374.21H408V375.45H407.75V374.91H407.5V370.26H407.25V382H407V373.25H406.75V373.65H406.5V372.12H406.25V371.35H406V373.51H405.75V377.58H405.5V374.58H405.25V381.83H405V377.01H404.75V382.57H404.5V379.02H404.25V378.26H404V376.97H403.75V375.77H403.5V382.5H403.25V372.04H403V380.98H402.75V374.79H402.5V369.73H402.25V381.38H402V385.3H401.75V372.18H401.5V371.32H401.25V375.03H401V373.29H400.75V373.44H400.5V373.48H400.25V374.52H400V371.54H399.75V373.02H399.5V374.59H399.25V377.01H399V383.99H398.75V377.67H398.5V371.85H398.25V375.95H398V376.57H397.75V375.91H397.5V371.87H397.25V373.14H397V372.2H396.75V374.63H396.5V377.06H396.25V378.6H396V375.82H395.75V371.67H395.5V375.74H395.25V369.14H395V374.25H394.75V373.01H394.5V383.73H394.25V376.89H394V372.53H393.75V380.62H393.5V372.38H393.25V385.3H393V382.32H392.75V376.19H392.5V375.77H392.25V373.52H392V372.12H391.75V373.09H391.5V372.92H391.25V372.93H391V373.69H390.75V376.96H390.5V377.71H390.25V378.66H390V385.3H389.75V384.11H389.5V385.3H389.25V377.08H389V372.33H388.75V374.37H388.5V368.23H388.25V374.22H388V377.5H387.75V374.46H387.5V382.16H387.25V374.93H387V372.4H386.75V375.11H386.5V374.75H386.25V371.1H386V375.08H385.75V372.13H385.5V380.34H385.25V373.77H385V377.5H384.75V374.4H384.5V373.13H384.25V379.99H384V381.09H383.75V372.12H383.5V381.92H383.25V371.22H383V378.28H382.75V381.25H382.5V377.59H382.25V372.13H382V375.47H381.75V381.09H381.5V373.17H381.25V383.93H381V378.63H380.75V382.69H380.5V372.75H380.25V376.33H380V378.03H379.75V377.17H379.5V378.09H379.25V379.27H379V371.02H378.75V379.19H378.5V372.1H378.25V376.77H378V373.91H377.75V381.17H377.5V382.51H377.25V379.5H377V378.21H376.75V375.67H376.5V369.35H376.25V375.89H376V371.47H375.75V375.05H375.5V370.66H375.25V376.22H375V369.38H374.75V379.6H374.5V382.15H374.25V376.88H374V375H373.75V376.85H373.5V373.54H373.25V383.24H373V371.64H372.75V378H372.5V371.67H372.25V374.01H372V377.41H371.75V376.07H371.5V375.08H371.25V375.63H371V378.31H370.75V375.87H370.5V372.62H370.25V373.44H370V385.09H369.75V372.27H369.5V373.58H369.25V370.45H369V378H368.75V375.03H368.5V384.99H368.25V376.17H368Z" fill="#0000ff"/>
<g class="t">
<text x="428" y="397" font-size="4.2" text-anchor="middle" fill="#2a2a2a">Number of Samples</text>
<text x="356.2" y="341" font-size="4.0" text-anchor="middle" fill="#2a2a2a" transform="rotate(-90 356.2 341)">dB</text>
<text x="480.5" y="397.6" font-size="3.5" fill="#222">x 10<tspan dy="-1.5" font-size="2.62">5</tspan></text>
</g></g>
<g id="plot-j"><rect x="19.2" y="427.2" width="129.1" height="90.7" fill="none" stroke="#808080" stroke-width="0.8"/>
<path d="M33.54 517.9v-1.4M33.54 427.2v1.4M47.89 517.9v-1.4M47.89 427.2v1.4M62.23 517.9v-1.4M62.23 427.2v1.4M76.58 517.9v-1.4M76.58 427.2v1.4M90.92 517.9v-1.4M90.92 427.2v1.4M105.27 517.9v-1.4M105.27 427.2v1.4M119.61 517.9v-1.4M119.61 427.2v1.4M133.96 517.9v-1.4M133.96 427.2v1.4M19.2 436.27h1.4M148.3 436.27h-1.4M19.2 445.34h1.4M148.3 445.34h-1.4M19.2 454.41h1.4M148.3 454.41h-1.4M19.2 463.48h1.4M148.3 463.48h-1.4M19.2 472.55h1.4M148.3 472.55h-1.4M19.2 481.62h1.4M148.3 481.62h-1.4M19.2 490.69h1.4M148.3 490.69h-1.4M19.2 499.76h1.4M148.3 499.76h-1.4M19.2 508.83h1.4M148.3 508.83h-1.4" stroke="#808080" stroke-width="0.6" fill="none"/>
<g class="t"><text x="19.2" y="523.5" font-size="3.5" text-anchor="middle" fill="#222">0</text><text x="33.54" y="523.5" font-size="3.5" text-anchor="middle" fill="#222">500</text><text x="47.89" y="523.5" font-size="3.5" text-anchor="middle" fill="#222">1000</text><text x="62.23" y="523.5" font-size="3.5" text-anchor="middle" fill="#222">1500</text><text x="76.58" y="523.5" font-size="3.5" text-anchor="middle" fill="#222">2000</text><text x="90.92" y="523.5" font-size="3.5" text-anchor="middle" fill="#222">2500</text><text x="105.27" y="523.5" font-size="3.5" text-anchor="middle" fill="#222">3000</text><text x="119.61" y="523.5" font-size="3.5" text-anchor="middle" fill="#222">3500</text><text x="133.96" y="523.5" font-size="3.5" text-anchor="middle" fill="#222">4000</text><text x="148.3" y="523.5" font-size="3.5" text-anchor="middle" fill="#222">4500</text><text x="17.6" y="428.66" font-size="3.5" text-anchor="end" fill="#222">2</text><text x="17.6" y="437.73" font-size="3.5" text-anchor="end" fill="#222">1.8</text><text x="17.6" y="446.8" font-size="3.5" text-anchor="end" fill="#222">1.6</text><text x="17.6" y="455.87" font-size="3.5" text-anchor="end" fill="#222">1.4</text><text x="17.6" y="464.94" font-size="3.5" text-anchor="end" fill="#222">1.2</text><text x="17.6" y="474.01" font-size="3.5" text-anchor="end" fill="#222">1</text><text x="17.6" y="483.08" font-size="3.5" text-anchor="end" fill="#222">0.8</text><text x="17.6" y="492.15" font-size="3.5" text-anchor="end" fill="#222">0.6</text><text x="17.6" y="501.22" font-size="3.5" text-anchor="end" fill="#222">0.4</text><text x="17.6" y="510.29" font-size="3.5" text-anchor="end" fill="#222">0.2</text><text x="17.6" y="519.36" font-size="3.5" text-anchor="end" fill="#222">0</text></g>
<path d="M19.2 517.9L24.94 517.9L26.37 516.99L27.81 517.45L30.68 516.54L31.54 514.27L32.4 515.63L33.54 516.54L34.69 516.99L35.21 515.63L35.5 495.22L35.72 458.94L35.93 431.74L36.36 432.64L36.59 458.94L36.93 490.69L37.42 503.39L37.99 504.29L38.48 490.69L38.77 468.01L38.97 453.5L39.2 468.01L39.51 492.96L39.86 500.67L40.2 491.6L40.57 501.57L41 497.49L41.43 504.29L41.86 497.49L42.15 474.82L42.38 450.78L42.61 468.01L42.9 490.69L43.24 504.29L43.64 496.13L44.04 507.92L44.45 497.04L44.82 508.83L45.31 513.37L46.02 515.18L46.88 515.63L47.89 513.82L49.04 514.27L49.67 511.1L50.07 504.29L50.33 494.32L50.5 487.52L50.67 495.22L50.93 504.29L51.39 510.64L52.19 510.19L52.91 507.92L53.4 505.66L53.91 510.19L54.77 513.82L55.63 513.37L56.07 508.83L56.35 498.85L56.52 491.6L56.7 499.76L56.98 508.83L57.5 512.91L58.5 514.73L59.94 515.63L61.37 515.18L62.38 513.37L62.95 508.83L63.32 501.57L63.61 491.6L63.9 499.76L64.3 508.83L64.82 513.82L65.96 516.09L67.97 516.99L69.41 515.63L70.41 512L70.84 511.55L71.56 513.37L72.42 516.54L73.71 517.36L76.58 516.99L78.01 515.63L79.45 516.54L80.88 517.36L85.18 517.54L90.92 517.08L93.79 517.54L105.27 517.67L136.82 517.72" stroke="#ff0000" stroke-width="0.38" fill="none" stroke-linejoin="round"/>
<g class="t">
<text x="83.5" y="528.2" font-size="4.2" text-anchor="middle" fill="#2a2a2a">Frequency</text>
<text x="9.4" y="472" font-size="4.0" text-anchor="middle" fill="#2a2a2a" transform="rotate(-90 9.4 472)">Power</text>
<text x="20.5" y="426" font-size="3.5" fill="#222">x 10<tspan dy="-1.5" font-size="2.62">-4</tspan></text>
</g></g>
<g id="plot-k"><rect x="197.4" y="429" width="135.7" height="87.5" fill="none" stroke="#808080" stroke-width="0.8"/>
<path d="M212.48 516.5v-1.4M212.48 429v1.4M227.56 516.5v-1.4M227.56 429v1.4M242.63 516.5v-1.4M242.63 429v1.4M257.71 516.5v-1.4M257.71 429v1.4M272.79 516.5v-1.4M272.79 429v1.4M287.87 516.5v-1.4M287.87 429v1.4M302.94 516.5v-1.4M302.94 429v1.4M318.02 516.5v-1.4M318.02 429v1.4M197.4 438.72h1.4M333.1 438.72h-1.4M197.4 448.44h1.4M333.1 448.44h-1.4M197.4 458.17h1.4M333.1 458.17h-1.4M197.4 467.89h1.4M333.1 467.89h-1.4M197.4 477.61h1.4M333.1 477.61h-1.4M197.4 487.33h1.4M333.1 487.33h-1.4M197.4 497.06h1.4M333.1 497.06h-1.4M197.4 506.78h1.4M333.1 506.78h-1.4" stroke="#808080" stroke-width="0.6" fill="none"/>
<g class="t"><text x="197.4" y="522.1" font-size="3.5" text-anchor="middle" fill="#222">0</text><text x="212.48" y="522.1" font-size="3.5" text-anchor="middle" fill="#222">500</text><text x="227.56" y="522.1" font-size="3.5" text-anchor="middle" fill="#222">1000</text><text x="242.63" y="522.1" font-size="3.5" text-anchor="middle" fill="#222">1500</text><text x="257.71" y="522.1" font-size="3.5" text-anchor="middle" fill="#222">2000</text><text x="272.79" y="522.1" font-size="3.5" text-anchor="middle" fill="#222">2500</text><text x="287.87" y="522.1" font-size="3.5" text-anchor="middle" fill="#222">3000</text><text x="302.94" y="522.1" font-size="3.5" text-anchor="middle" fill="#222">3500</text><text x="318.02" y="522.1" font-size="3.5" text-anchor="middle" fill="#222">4000</text><text x="333.1" y="522.1" font-size="3.5" text-anchor="middle" fill="#222">4500</text><text x="195.8" y="430.46" font-size="3.5" text-anchor="end" fill="#222">4.5</text><text x="195.8" y="440.18" font-size="3.5" text-anchor="end" fill="#222">4</text><text x="195.8" y="449.9" font-size="3.5" text-anchor="end" fill="#222">3.5</text><text x="195.8" y="459.63" font-size="3.5" text-anchor="end" fill="#222">3</text><text x="195.8" y="469.35" font-size="3.5" text-anchor="end" fill="#222">2.5</text><text x="195.8" y="479.07" font-size="3.5" text-anchor="end" fill="#222">2</text><text x="195.8" y="488.79" font-size="3.5" text-anchor="end" fill="#222">1.5</text><text x="195.8" y="498.52" font-size="3.5" text-anchor="end" fill="#222">1</text><text x="195.8" y="508.24" font-size="3.5" text-anchor="end" fill="#222">0.5</text><text x="195.8" y="517.96" font-size="3.5" text-anchor="end" fill="#222">0</text></g>
<path d="M197.4 516.5L204.94 516.5L205.48 514.56L205.99 516.5L210.97 516.11L212.48 515.53L213.68 514.56L214.29 510.67L214.65 493.17L214.89 468.86L215.13 493.17L215.49 506.78L216.1 510.67L217 512.61L217.75 502.89L218.27 491.22L218.54 485.39L218.81 499L219.17 506.78L219.65 495.11L220.11 481.5L220.35 477.61L220.68 497.06L221.07 493.17L221.46 469.83L221.8 446.5L221.98 436.39L222.19 454.28L222.49 481.5L222.97 499L223.58 506.78L224.24 510.67L224.84 504.83L225.38 491.22L225.72 479.56L225.9 474.69L226.11 491.22L226.5 502.89L226.95 508.72L227.56 510.67L228.16 500.94L228.76 487.33L229.18 465.94L229.43 456.22L229.73 467.89L230.03 454.28L230.27 435.81L230.51 458.17L230.87 481.5L231.33 497.06L231.78 500.94L232.14 491.22L232.38 485.39L232.68 499L233.13 504.83L233.59 506.78L234.13 497.06L234.49 489.28L234.7 487.33L234.97 502.89L235.4 509.69L235.88 508.72L236.33 493.17L236.6 477.61L236.75 471.78L236.96 489.28L237.36 504.83L237.81 512.61L238.41 502.89L238.95 489.28L239.29 477.61L239.47 472.17L239.68 489.28L240.04 504.83L240.37 508.72L240.82 503.86L241.43 510.67L242.33 514.56L243.24 513.58L244.14 511.06L245.05 514.56L246.25 515.53L248.06 515.92L249.27 514.94L250.47 515.92L251.68 514.56L252.89 515.53L254.7 515.92L257.71 514.94L259.52 512.61L261.03 510.67L261.93 514.56L263.74 515.92L266.76 515.92L269.77 515.33L272.19 514.17L273.69 513L274.9 514.56L276.41 515.72L278.82 516.11L281.84 516.27L287.87 516.34L318.02 516.11L321.04 516.34" stroke="#00ff00" stroke-width="0.5" fill="none" stroke-linejoin="round"/>
<g class="t">
<text x="265" y="526.3" font-size="4.2" text-anchor="middle" fill="#2a2a2a">Frequency</text>
<text x="187" y="473" font-size="4.0" text-anchor="middle" fill="#2a2a2a" transform="rotate(-90 187 473)">Power</text>
<text x="198.5" y="428" font-size="3.5" fill="#222">x 10<tspan dy="-1.5" font-size="2.62">-3</tspan></text>
</g></g>
<g id="plot-l"><rect x="367.4" y="427.2" width="124.2" height="90.7" fill="none" stroke="#808080" stroke-width="0.8"/>
<path d="M381.2 517.9v-1.4M381.2 427.2v1.4M395 517.9v-1.4M395 427.2v1.4M408.8 517.9v-1.4M408.8 427.2v1.4M422.6 517.9v-1.4M422.6 427.2v1.4M436.4 517.9v-1.4M436.4 427.2v1.4M450.2 517.9v-1.4M450.2 427.2v1.4M464 517.9v-1.4M464 427.2v1.4M477.8 517.9v-1.4M477.8 427.2v1.4M367.4 436.27h1.4M491.6 436.27h-1.4M367.4 445.34h1.4M491.6 445.34h-1.4M367.4 454.41h1.4M491.6 454.41h-1.4M367.4 463.48h1.4M491.6 463.48h-1.4M367.4 472.55h1.4M491.6 472.55h-1.4M367.4 481.62h1.4M491.6 481.62h-1.4M367.4 490.69h1.4M491.6 490.69h-1.4M367.4 499.76h1.4M491.6 499.76h-1.4M367.4 508.83h1.4M491.6 508.83h-1.4" stroke="#808080" stroke-width="0.6" fill="none"/>
<g class="t"><text x="367.4" y="523.5" font-size="3.5" text-anchor="middle" fill="#222">0</text><text x="381.2" y="523.5" font-size="3.5" text-anchor="middle" fill="#222">500</text><text x="395" y="523.5" font-size="3.5" text-anchor="middle" fill="#222">1000</text><text x="408.8" y="523.5" font-size="3.5" text-anchor="middle" fill="#222">1500</text><text x="422.6" y="523.5" font-size="3.5" text-anchor="middle" fill="#222">2000</text><text x="436.4" y="523.5" font-size="3.5" text-anchor="middle" fill="#222">2500</text><text x="450.2" y="523.5" font-size="3.5" text-anchor="middle" fill="#222">3000</text><text x="464" y="523.5" font-size="3.5" text-anchor="middle" fill="#222">3500</text><text x="477.8" y="523.5" font-size="3.5" text-anchor="middle" fill="#222">4000</text><text x="491.6" y="523.5" font-size="3.5" text-anchor="middle" fill="#222">4500</text><text x="365.8" y="428.66" font-size="3.5" text-anchor="end" fill="#222">0.01</text><text x="365.8" y="437.73" font-size="3.5" text-anchor="end" fill="#222">0.009</text><text x="365.8" y="446.8" font-size="3.5" text-anchor="end" fill="#222">0.008</text><text x="365.8" y="455.87" font-size="3.5" text-anchor="end" fill="#222">0.007</text><text x="365.8" y="464.94" font-size="3.5" text-anchor="end" fill="#222">0.006</text><text x="365.8" y="474.01" font-size="3.5" text-anchor="end" fill="#222">0.005</text><text x="365.8" y="483.08" font-size="3.5" text-anchor="end" fill="#222">0.004</text><text x="365.8" y="492.15" font-size="3.5" text-anchor="end" fill="#222">0.003</text><text x="365.8" y="501.22" font-size="3.5" text-anchor="end" fill="#222">0.002</text><text x="365.8" y="510.29" font-size="3.5" text-anchor="end" fill="#222">0.001</text><text x="365.8" y="519.36" font-size="3.5" text-anchor="end" fill="#222">0</text></g>
<path d="M367.4 517.9L373.75 517.9L374.11 516.54L374.3 514.73L374.49 516.54L374.85 517.72L378.44 517.63L379.82 516.99L381.2 515.18L382.03 512.46L382.58 509.74L382.94 503.39L383.19 472.55L383.41 431.28L383.6 472.55L383.82 503.39L384.18 508.83L384.73 510.64L385.34 508.83L385.75 503.39L385.97 501.57L386.28 509.74L386.53 504.29L386.72 501.12L386.94 508.83L387.27 513.37L387.69 514.73L388.16 512.46L388.6 501.57L388.98 487.06L389.23 468.01L389.37 455.77L389.54 477.99L389.81 494.32L390.17 507.02L390.58 512.46L391.14 515.18L391.69 514.73L392.05 512.46L392.24 510.64L392.46 513.37L392.85 515.63L393.62 516.99L395 516.54L395.77 512.46L396.32 512.46L396.82 507.02L397.15 502.48L397.35 500.67L397.54 507.02L397.87 512.46L398.31 514.27L398.86 512.46L399.42 514.27L399.97 512L400.52 514.27L401.07 511.55L401.62 515.18L402.45 515.18L402.95 509.74L403.22 502.48L403.39 497.95L403.56 504.29L403.83 510.64L404.33 515.18L404.94 513.37L405.49 516.09L406.59 517.36L408.25 517.36L409.35 516.09L410.18 515.63L411.01 517.17L412.94 517.54L415.7 516.99L416.8 516.09L417.91 517.17L419.84 517.54L422.6 517.45L425.36 517.45L428.12 517.54L430.88 516.99L431.98 515.9L433.09 516.54L434.47 517.45L436.4 517.63L450.2 517.72L461.24 517.58L464 517.72L477.8 517.58L480.56 517.72" stroke="#0000ff" stroke-width="0.45" fill="none" stroke-linejoin="round"/>
<g class="t">
<text x="429.3" y="528.2" font-size="4.2" text-anchor="middle" fill="#2a2a2a">Frequency</text>
<text x="354.2" y="472" font-size="4.0" text-anchor="middle" fill="#2a2a2a" transform="rotate(-90 354.2 472)">Power</text>
</g></g>
</g>
<g id="captions"><text x="80.8" y="131.6" font-size="10.5" text-anchor="middle" fill="#111" font-family="'Liberation Serif',serif">(<tspan font-weight="bold">a</tspan>)</text>
<text x="255.2" y="131.4" font-size="10.5" text-anchor="middle" fill="#111" font-family="'Liberation Serif',serif">(<tspan font-weight="bold">b</tspan>)</text>
<text x="425.7" y="131.4" font-size="10.5" text-anchor="middle" fill="#111" font-family="'Liberation Serif',serif">(<tspan font-weight="bold">c</tspan>)</text>
<text x="80.6" y="279.6" font-size="10.5" text-anchor="middle" fill="#111" font-family="'Liberation Serif',serif">(<tspan font-weight="bold">d</tspan>)</text>
<text x="255.2" y="279.6" font-size="10.5" text-anchor="middle" fill="#111" font-family="'Liberation Serif',serif">(<tspan font-weight="bold">e</tspan>)</text>
<text x="425.8" y="279.6" font-size="10.5" text-anchor="middle" fill="#111" font-family="'Liberation Serif',serif">(<tspan font-weight="bold">f</tspan>)</text>
<text x="80.7" y="412.8" font-size="10.5" text-anchor="middle" fill="#111" font-family="'Liberation Serif',serif">(<tspan font-weight="bold">g</tspan>)</text>
<text x="255.3" y="412.8" font-size="10.5" text-anchor="middle" fill="#111" font-family="'Liberation Serif',serif">(<tspan font-weight="bold">h</tspan>)</text>
<text x="426" y="412.8" font-size="10.5" text-anchor="middle" fill="#111" font-family="'Liberation Serif',serif">(<tspan font-weight="bold">i</tspan>)</text>
<text x="80.8" y="544.3" font-size="11" text-anchor="middle" fill="#111">(j)</text>
<text x="255.2" y="543.8" font-size="10.5" text-anchor="middle" fill="#111" font-family="'Liberation Serif',serif">(<tspan font-weight="bold">k</tspan>)</text>
<text x="425.8" y="544.6" font-size="10.5" text-anchor="middle" fill="#111" font-family="'Liberation Serif',serif">(l)</text></g>
</svg>
</body></html>
